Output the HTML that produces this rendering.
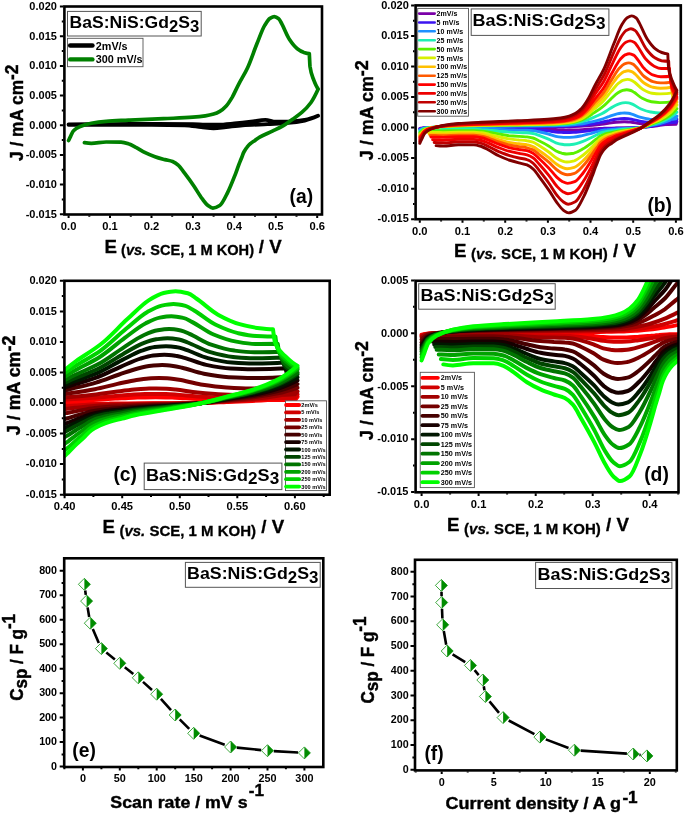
<!DOCTYPE html>
<html lang="en"><head><meta charset="utf-8"><title>CV curves BaS:NiS:Gd2S3</title>
<style>html,body{margin:0;padding:0;background:#fff}svg{display:block}text{font-family:'Liberation Sans', Arial, sans-serif;fill:#000}</style></head><body>
<svg width="685" height="815" viewBox="0 0 685 815">
<rect width="685" height="815" fill="#fff"/>
<g fill="none" stroke-linejoin="round" stroke-linecap="round">
<path d="M68.6 124.4C75.5 124.2 82.4 124.1 89.3 124.1C96.2 124.1 103.1 124.1 110 124.1C123.8 124.1 137.7 124 151.5 124C165.3 124 179.1 124 192.9 124.1C197 124.1 201.2 124.7 205.3 124.7C209.5 124.7 213.6 124.7 217.8 124.7C223.3 124.7 228.8 124 234.3 123.5C239.9 123 245.4 122.4 250.9 121.7C255.7 121.2 260.6 119.9 265.4 119.9C268.9 119.9 272.3 121.7 275.8 121.7C279.9 121.7 284.1 121.7 288.2 121.7C293.7 121.7 299.2 120.8 304.8 119.9C309.2 119.2 313.6 117.6 318 115.8L318 115.8C313.6 117.8 309.2 119.6 304.8 120.5C299.2 121.7 293.7 122.5 288.2 122.9C281.3 123.5 274.4 123.7 267.5 124.1C259.2 124.5 250.9 124.7 242.6 125.3C237.1 125.7 231.6 126.5 226 127.1C221.9 127.5 217.8 128.3 213.6 128.3C209.5 128.3 205.3 127.5 201.2 127.1C195.7 126.5 190.1 125.5 184.6 125.3C173.6 124.9 162.5 124.7 151.5 124.7C137.7 124.7 123.8 124.7 110 124.7C96.2 124.7 82.4 124.7 68.6 124.7" stroke="#000" stroke-width="3.9"/>
<path d="M68.6 140.5C69.3 139 70 137.5 70.7 136.1C71.6 134.3 72.5 131.7 73.5 130.7C75.5 128.6 77.5 127.5 79.5 126.7C83.4 125 87.4 123.9 91.3 123.2C96.3 122.3 101.2 121.7 106.2 121.3C113.6 120.7 121 120.5 128.5 120.1C140.1 119.6 151.7 119.2 163.4 118.7C173.2 118.2 183.1 117.9 192.9 117.2C197 117 201.2 116.6 205.3 115.9C208.1 115.5 210.9 114.9 213.6 114.1C215.7 113.5 217.8 112.6 219.8 111.4C221.9 110.2 224 108.5 226 106.3C228.1 104.1 230.2 100.6 232.3 97.1C234.3 93.5 236.4 88.6 238.5 84.6C241.5 78.7 244.6 74.2 247.6 67.7C250.7 61.1 253.8 51.5 256.9 43.8C259.5 37.5 262.1 29.7 264.7 25.4C266.5 22.5 268.2 19.5 270 18.4C271.4 17.6 272.8 16.7 274.3 16.7C275.7 16.7 277.2 17.6 278.7 18.8C279.7 19.5 280.7 21.9 281.7 23.7C284.3 28.4 286.9 35.6 289.5 39.5C292.1 43.4 294.7 46.7 297.3 48.7C299.4 50.3 301.5 51.6 303.5 52.3C305.5 52.9 307.4 53.5 309.3 53.6L309.3 53.6C309.6 58.4 309.8 64.7 310 66.4C311.3 75.2 312.5 76.6 313.7 79.9C315.2 83.8 316.7 87.2 318.2 89.1L318.2 89.1C315.8 94.4 313.4 99.2 311 102.5C307.9 106.8 304.9 109.8 301.8 112.4C298.7 115.1 295.7 117 292.6 119.2C289.5 121.3 286.5 123.8 283.4 125.6C279.9 127.6 276.4 129.2 272.9 130.9C268.5 133.1 264.1 134.6 259.7 137.2C258.1 138.1 256.6 139.3 255 140.4C253.5 141.5 252 142.3 250.5 143.6C249.3 144.5 248.2 145.7 247.1 147.1C246 148.4 245 150 243.9 152C243 153.6 242.2 156.4 241.3 158.5C240.4 160.9 239.4 163.1 238.5 165.6C237.6 168 236.7 170.7 235.8 173.1C233 180.1 230.3 187.3 227.6 192.6C225 197.7 222.4 203.9 219.7 205.5C217.5 206.9 215.2 208.1 212.9 208.1C211.3 208.1 209.6 206.7 208 205.5C206 204.1 204.1 201.3 202.1 198.7C199.5 195.2 196.8 190.4 194.2 186.5C191 181.7 187.7 177.2 184.4 172.9C182.4 170.3 180.5 167 178.5 165.3C176.6 163.6 174.6 162.3 172.6 161.5C170 160.6 167.4 160.3 164.8 159.6C161.5 158.7 158.3 157.9 155 156.7C151.7 155.6 148.4 154.3 145.2 152.7C142.1 151.2 139 149 135.9 147.4C133.4 146 130.9 144.4 128.5 143.7C126 142.9 123.5 142.1 121 142.1C116.1 142 111.1 142 106.2 142C101.2 142 96.3 143.3 91.3 143.3C89 143.3 86.7 143 84.4 142.7" stroke="#008000" stroke-width="3.7"/>
</g>
<rect x="64.4" y="6.5" width="257.6" height="208" fill="none" stroke="#000" stroke-width="2.6"/>
<text transform="translate(56.9 9.8) scale(1.03 1)" font-size="10.7" text-anchor="end" font-weight="bold">0.020</text>
<text transform="translate(56.9 39.5) scale(1.03 1)" font-size="10.7" text-anchor="end" font-weight="bold">0.015</text>
<text transform="translate(56.9 69.2) scale(1.03 1)" font-size="10.7" text-anchor="end" font-weight="bold">0.010</text>
<text transform="translate(56.9 98.8) scale(1.03 1)" font-size="10.7" text-anchor="end" font-weight="bold">0.005</text>
<text transform="translate(56.9 128.5) scale(1.03 1)" font-size="10.7" text-anchor="end" font-weight="bold">0.000</text>
<text transform="translate(56.9 158.2) scale(1.03 1)" font-size="10.7" text-anchor="end" font-weight="bold">-0.005</text>
<text transform="translate(56.9 187.9) scale(1.03 1)" font-size="10.7" text-anchor="end" font-weight="bold">-0.010</text>
<text transform="translate(56.9 217.5) scale(1.03 1)" font-size="10.7" text-anchor="end" font-weight="bold">-0.015</text>
<path d="M63.4 6.6h-3.5M63.4 36.3h-3.5M63.4 65.9h-3.5M63.4 95.6h-3.5M63.4 125.3h-3.5M63.4 155h-3.5M63.4 184.6h-3.5M63.4 214.3h-3.5M63.4 21.4h-1.6M63.4 51.1h-1.6M63.4 80.8h-1.6M63.4 110.4h-1.6M63.4 140.1h-1.6M63.4 169.8h-1.6M63.4 199.5h-1.6" stroke="#000" stroke-width="2.0" fill="none"/>
<text transform="translate(68.6 230) scale(1.045 1)" font-size="10.7" text-anchor="middle" font-weight="bold">0.0</text>
<text transform="translate(110 230) scale(1.045 1)" font-size="10.7" text-anchor="middle" font-weight="bold">0.1</text>
<text transform="translate(151.5 230) scale(1.045 1)" font-size="10.7" text-anchor="middle" font-weight="bold">0.2</text>
<text transform="translate(192.9 230) scale(1.045 1)" font-size="10.7" text-anchor="middle" font-weight="bold">0.3</text>
<text transform="translate(234.3 230) scale(1.045 1)" font-size="10.7" text-anchor="middle" font-weight="bold">0.4</text>
<text transform="translate(275.8 230) scale(1.045 1)" font-size="10.7" text-anchor="middle" font-weight="bold">0.5</text>
<text transform="translate(317.2 230) scale(1.045 1)" font-size="10.7" text-anchor="middle" font-weight="bold">0.6</text>
<path d="M68.6 215.5v2.6M110 215.5v2.6M151.5 215.5v2.6M192.9 215.5v2.6M234.3 215.5v2.6M275.8 215.5v2.6M317.2 215.5v2.6M89.3 215.5v1.2M130.8 215.5v1.2M172.2 215.5v1.2M213.6 215.5v1.2M255 215.5v1.2M296.5 215.5v1.2" stroke="#000" stroke-width="2.0" fill="none"/>
<text transform="translate(23.2 112.8) rotate(-90) scale(1 1.05)" font-size="17.3" font-weight="bold" text-anchor="middle" stroke="#000" stroke-width="0.4">J / mA cm<tspan dy="-4.6">-2</tspan></text>
<text x="104.5" y="252.9" font-size="18.7" text-anchor="start" font-weight="bold" stroke="#000" stroke-width="0.3">E</text>
<text x="121" y="255.4" font-size="14.6" font-weight="bold" stroke="#000" stroke-width="0.3">(<tspan font-style="italic">vs.</tspan> SCE, 1 M KOH)</text>
<text x="258.8" y="252.9" font-size="18.7" text-anchor="start" font-weight="bold" stroke="#000" stroke-width="0.3">/ V</text>
<rect x="67.5" y="11.4" width="133.7" height="24.6" fill="#fff" stroke="#555" stroke-width="1"/>
<text transform="translate(69.6 28.3) scale(1.07 1)" font-size="16.4" font-weight="bold">BaS:NiS:Gd<tspan dy="3.2" font-size="15.6">2</tspan><tspan dy="-3.2" font-size="16.4">S</tspan><tspan dy="3.2" font-size="15.6">3</tspan></text>
<rect x="67.5" y="38.3" width="75.5" height="28.4" fill="#fff" stroke="#555" stroke-width="0.9"/>
<path d="M70.2 45.5H92.4" stroke="#000" stroke-width="4.6" stroke-linecap="round"/>
<path d="M70.2 59.4H92.4" stroke="#008000" stroke-width="4.4" stroke-linecap="round"/>
<text x="95.8" y="49.5" font-size="10.8" text-anchor="start" font-weight="bold">2mV/s</text>
<text x="95.8" y="63.2" font-size="10.8" text-anchor="start" font-weight="bold">300 mV/s</text>
<text x="289.6" y="202.6" font-size="19.3" text-anchor="start" font-weight="bold">(a)</text>
<g fill="none" stroke-linejoin="round" stroke-linecap="round" stroke-width="2.9">
<path d="M419.8 128.4C420.4 128.3 420.9 128.2 421.5 128.1C422.2 128 422.9 127.9 423.6 127.8C425.2 127.7 426.8 127.7 428.3 127.6C431.9 127.5 435.5 127.4 439 127.4C445.4 127.3 451.8 127.2 458.2 127.2C466 127.2 473.7 127.1 481.5 127.1C493.5 127.1 505.4 127.1 517.4 127C527.6 127 537.7 126.9 547.9 126.9C551.4 126.8 555 126.8 558.5 126.8C561.4 126.7 564.2 126.7 567.1 126.7C569.2 126.6 571.3 126.5 573.5 126.5C575.6 126.4 577.7 126.3 579.9 126.2C582 126.1 584.1 125.9 586.3 125.8C588.4 125.6 590.5 125.4 592.7 125.2C595.5 125 598.4 124.7 601.2 124.3C603.9 124 606.6 123.5 609.3 123.1C611.6 122.8 613.9 122.5 616.1 122.3C617.6 122.1 619 122 620.4 122C621.7 121.9 623 121.8 624.3 121.8C625.5 121.8 626.8 121.9 628.1 122C629.2 122 630.4 122.2 631.5 122.3C634.2 122.6 636.9 123.2 639.6 123.5C642.9 123.9 646.2 124.2 649.4 124.4C652.6 124.5 655.7 124.7 658.8 124.7C664.6 124.7 670.4 124.6 676.1 124.3L676.9 121.5L676.9 121.5C674.4 122.4 672 123.2 669.5 123.8C666.3 124.5 663.2 125 660 125.4C656.9 125.9 653.7 126.2 650.5 126.6C647.4 126.9 644.2 127.5 641.1 127.6C637.5 127.7 633.9 127.7 630.3 127.8C625.7 127.8 621.2 127.9 616.6 128C615.1 128 613.5 128 611.9 128.1C610.3 128.1 608.7 128.1 607.1 128.2C605.9 128.2 604.7 128.2 603.5 128.3C602.4 128.3 601.3 128.3 600.2 128.4C599.3 128.5 598.4 128.5 597.5 128.6C596.4 128.7 595.4 128.7 594.4 128.8C593.4 128.9 592.4 129 591.4 129C588.3 129.2 585.2 129.5 582.2 129.6C579.2 129.8 576.2 129.9 573.3 130C570.8 130 568.4 130.1 566 130.1C564.4 130.1 562.7 130 561.1 130C559.3 129.9 557.5 129.9 555.6 129.8C553.2 129.7 550.8 129.4 548.4 129.3C545.2 129.1 542 128.9 538.9 128.7C536.9 128.6 534.9 128.5 533 128.5C531 128.4 529 128.4 527 128.4C524.3 128.3 521.6 128.3 518.9 128.3C515.5 128.3 512.2 128.3 508.8 128.3C505.4 128.2 502.1 128.1 498.7 128.1C495.5 128 492.3 128 489.1 127.9C486.6 127.9 484 127.8 481.5 127.8C478.9 127.8 476.4 127.8 473.8 127.8C468.7 127.8 463.6 127.8 458.5 127.8C453.4 127.8 448.3 127.8 443.2 127.8C440.4 127.8 437.6 127.8 434.8 127.8C431.7 127.8 428.6 127.8 425.5 127.8" stroke="#7b00a8"/>
<path d="M419.8 128.9C420.4 128.7 420.9 128.6 421.5 128.4C422.2 128.3 422.9 128.1 423.6 128C425.2 127.8 426.8 127.7 428.3 127.6C431.9 127.4 435.5 127.3 439 127.2C445.4 127.1 451.8 127 458.2 127C466 126.9 473.7 126.9 481.5 126.8C493.5 126.8 505.4 126.7 517.4 126.7C527.6 126.6 537.7 126.5 547.9 126.4C551.4 126.4 555 126.3 558.5 126.3C561.4 126.2 564.2 126.2 567.1 126.1C569.2 126 571.3 125.9 573.5 125.8C575.6 125.7 577.7 125.5 579.9 125.3C582 125.1 584.1 124.9 586.3 124.7C588.4 124.4 590.5 124.2 592.7 123.9C595.5 123.4 598.4 122.9 601.2 122.4C603.9 121.9 606.6 121.1 609.3 120.6C611.6 120.1 613.9 119.5 616.1 119.2C617.6 119 619 118.8 620.4 118.7C621.7 118.6 623 118.5 624.3 118.5C625.5 118.5 626.8 118.6 628.1 118.7C629.2 118.8 630.4 119 631.5 119.2C634.2 119.7 636.9 120.6 639.6 121.1C642.9 121.7 646.2 122.2 649.4 122.5C652.6 122.7 655.7 123 658.8 123C664.6 123 670.4 122.9 676.1 122.3L676.9 119.1L676.9 119.1C674.4 120.3 672 121.5 669.5 122.2C666.3 123.2 663.2 124 660 124.6C656.9 125.2 653.7 125.7 650.5 126.2C647.4 126.7 644.2 127.5 641.1 127.6C637.5 127.8 633.9 127.8 630.3 127.9C625.7 128.1 621.2 128.2 616.7 128.3C615.1 128.4 613.5 128.4 611.9 128.5C610.3 128.6 608.7 128.6 607.1 128.7C605.9 128.8 604.7 128.8 603.5 128.9C602.4 129 601.3 129.1 600.2 129.2C599.3 129.3 598.4 129.5 597.5 129.6C596.5 129.7 595.4 129.9 594.4 130C593.4 130.1 592.4 130.3 591.4 130.4C588.4 130.9 585.3 131.3 582.2 131.6C579.2 131.9 576.3 132.3 573.3 132.4C570.9 132.4 568.5 132.5 566.1 132.5C564.4 132.5 562.8 132.4 561.2 132.4C559.3 132.3 557.5 132.1 555.7 132C553.3 131.7 550.8 131.2 548.4 130.9C545.2 130.5 542.1 130.1 538.9 129.8C536.9 129.6 534.9 129.4 533 129.3C531 129.2 529 129.1 527 129.1C524.3 129.1 521.6 129.1 518.9 129C515.5 129 512.2 129 508.8 128.9C505.4 128.8 502.1 128.7 498.7 128.6C495.5 128.6 492.3 128.4 489.1 128.4C486.6 128.3 484 128.2 481.5 128.2C478.9 128.2 476.4 128.1 473.8 128.1C468.7 128.1 463.6 128.1 458.5 128.1C453.4 128.1 448.3 128.2 443.2 128.2C440.4 128.2 437.6 128.2 434.8 128.2C431.7 128.2 428.7 128.2 425.7 128.2" stroke="#3c14f0"/>
<path d="M419.8 129.7C420.4 129.4 420.9 129.2 421.5 128.9C422.2 128.7 423 128.4 423.7 128.2C425.3 127.9 426.8 127.8 428.4 127.6C432 127.4 435.6 127.2 439.1 127.1C445.5 126.9 451.9 126.7 458.2 126.6C466 126.5 473.7 126.5 481.5 126.4C493.5 126.3 505.4 126.3 517.4 126.1C527.6 126 537.7 125.9 547.9 125.8C551.4 125.7 555 125.7 558.6 125.6C561.4 125.5 564.3 125.4 567.1 125.3C569.3 125.2 571.4 125 573.5 124.8C575.7 124.6 577.8 124.4 579.9 124.1C582.1 123.8 584.2 123.4 586.3 123C588.5 122.6 590.6 122.2 592.7 121.7C595.6 121 598.4 120.2 601.3 119.3C604 118.5 606.7 117.3 609.5 116.4C611.7 115.6 614 114.7 616.3 114.1C617.8 113.8 619.2 113.5 620.6 113.3C621.9 113.2 623.2 113 624.5 113C625.8 113 627.1 113.1 628.3 113.3C629.5 113.5 630.6 113.8 631.7 114.1C634.5 114.9 637.2 116.4 639.9 117.1C643.1 118 646.4 118.8 649.6 119.2C652.7 119.5 655.8 119.9 658.9 119.9C664.6 119.9 670.2 119.8 675.9 118.9L676.9 116L676.9 116C674.4 117.7 672 119.3 669.5 120.3C666.3 121.7 663.2 122.6 660 123.5C656.9 124.4 653.7 125 650.5 125.6C647.4 126.3 644.2 127.4 641.1 127.6C637.5 128 633.9 128.1 630.3 128.3C625.7 128.5 621.2 128.7 616.7 129C615.1 129.1 613.5 129.3 611.9 129.4C610.3 129.5 608.7 129.6 607.1 129.8C605.9 129.9 604.7 130 603.5 130.2C602.4 130.4 601.3 130.5 600.2 130.8C599.3 131 598.4 131.3 597.5 131.6C596.5 131.8 595.4 132.1 594.4 132.4C593.4 132.7 592.5 133 591.5 133.3C588.4 134.1 585.3 135 582.3 135.6C579.3 136.2 576.4 136.9 573.5 137.1C571.1 137.3 568.6 137.4 566.2 137.4C564.6 137.4 562.9 137.3 561.3 137.1C559.5 137 557.6 136.7 555.8 136.3C553.3 135.8 550.9 134.6 548.4 134C545.3 133.1 542.1 132.3 538.9 131.7C536.9 131.3 535 130.8 533 130.6C531 130.4 529 130.3 527 130.2C524.3 130.2 521.6 130.1 518.9 130.1C515.5 130 512.2 130 508.8 129.9C505.4 129.8 502.1 129.6 498.7 129.4C495.5 129.2 492.3 129 489.1 128.9C486.6 128.8 484 128.6 481.5 128.6C478.9 128.5 476.4 128.5 473.8 128.5C468.7 128.5 463.6 128.5 458.5 128.5C453.4 128.5 448.3 128.5 443.2 128.5C440.4 128.5 437.6 128.5 434.8 128.5C431.8 128.5 428.9 128.5 425.9 128.5" stroke="#1e90ff"/>
<path d="M419.8 131.1C420.4 130.7 421 130.3 421.6 130C422.3 129.5 423.1 129 423.9 128.7C425.5 128.2 427.2 127.9 428.8 127.7C432.5 127.3 436.1 127 439.8 126.8C445.9 126.5 452.1 126.3 458.3 126.2C466 126 473.7 126 481.5 125.9C493.5 125.7 505.4 125.6 517.4 125.4C527.6 125.3 537.7 125.2 547.9 124.9C551.5 124.9 555.2 124.7 558.9 124.6C561.8 124.5 564.6 124.3 567.4 124.1C569.6 124 571.7 123.7 573.8 123.4C576 123 578.1 122.6 580.2 122.1C582.4 121.6 584.5 120.9 586.7 120.2C588.8 119.5 590.9 118.6 593.1 117.7C596 116.5 598.8 115.3 601.7 113.8C604.5 112.3 607.3 110.2 610.1 108.5C612.5 107.2 614.8 105.5 617.2 104.6C618.7 104 620.2 103.4 621.6 103.1C623 102.9 624.3 102.6 625.6 102.6C626.9 102.6 628.2 102.9 629.6 103.1C630.7 103.4 631.8 103.9 632.9 104.4C635.6 105.6 638.3 107.9 641 109C644.2 110.3 647.4 111.5 650.5 112C653.5 112.5 656.4 113 659.4 113C664.4 113 669.5 112.7 674.6 111.6L674.6 111.6C674.7 111.7 674.7 111.8 674.8 111.9C675.1 112.1 675.4 112.1 675.7 112.2C676.1 112.2 676.5 112.3 676.9 112.3L676.9 112.3C674.4 114.6 672 116.6 669.5 118C666.3 119.8 663.2 121.1 660 122.2C656.9 123.3 653.7 124.1 650.5 125C647.4 125.9 644.2 127.2 641.1 127.7C637.5 128.2 633.9 128.4 630.3 128.8C625.7 129.2 621.2 129.5 616.7 130.1C615.1 130.3 613.5 130.5 611.9 130.8C610.3 131 608.7 131.1 607.1 131.4C605.9 131.6 604.7 131.8 603.6 132.1C602.5 132.4 601.3 132.7 600.2 133.1C599.3 133.5 598.4 134.1 597.5 134.5C596.5 135 595.5 135.5 594.5 136C593.5 136.5 592.5 137 591.5 137.5C588.5 139 585.4 140.5 582.4 141.6C579.5 142.6 576.6 143.9 573.7 144.2C571.3 144.5 568.8 144.8 566.4 144.8C564.8 144.8 563.2 144.5 561.5 144.2C559.7 144 557.8 143.4 555.9 142.8C553.5 142 551 140.2 548.5 139.1C545.3 137.7 542.1 136.4 538.9 135.3C536.9 134.7 535 133.8 533 133.5C531 133.2 529 132.9 527 132.8C524.3 132.7 521.6 132.7 518.9 132.6C515.5 132.4 512.2 132.3 508.8 132.1C505.4 131.9 502.1 131.5 498.7 131.2C495.5 130.8 492.3 130.5 489.1 130.2C486.6 129.9 484 129.7 481.5 129.6C478.9 129.4 476.4 129.3 473.8 129.3C468.7 129.3 463.6 129.3 458.5 129.3C453.4 129.3 448.3 129.5 443.2 129.5C440.4 129.5 437.6 129.4 434.8 129.4C432 129.4 429.2 129.4 426.4 129.4" stroke="#1ef0b4"/>
<path d="M419.8 132.9C420.4 132.4 421 131.8 421.6 131.3C422.4 130.7 423.2 129.8 424 129.4C425.8 128.7 427.5 128.3 429.2 128C432.9 127.4 436.7 127 440.4 126.7C446.4 126.4 452.3 126.1 458.3 126C466 125.8 473.8 125.7 481.5 125.5C493.5 125.3 505.4 125.2 517.4 125C527.6 124.8 537.7 124.7 547.9 124.4C551.6 124.3 555.4 124.1 559.2 123.9C562.1 123.7 564.9 123.5 567.8 123.2C569.9 123 572 122.6 574.2 122.2C576.3 121.8 578.4 121.2 580.6 120.4C582.7 119.7 584.8 118.5 587 117.3C589.1 116.1 591.2 114.6 593.4 113.1C596.3 111.2 599.2 109.6 602.2 107.2C605.1 105 607.9 101.7 610.8 99.1C613.2 96.9 615.6 94.3 618 92.8C619.6 91.8 621.1 90.8 622.7 90.4C624 90.1 625.3 89.8 626.7 89.8C628 89.8 629.4 90.1 630.8 90.5C631.9 90.8 633 91.7 634.1 92.3C636.8 94 639.5 97 642.2 98.3C645.2 99.9 648.3 101.3 651.4 101.8C654.2 102.2 657 102.6 659.8 102.6C664.3 102.6 668.9 102.3 673.4 101.3L673.4 101.3C673.5 102.3 673.6 103.6 673.7 104C674.2 105.8 674.6 106.1 675.1 106.8C675.7 107.6 676.3 108.3 676.9 108.7L676.9 108.7C674.4 111.5 672 114 669.5 115.7C666.3 117.9 663.2 119.5 660 120.9C656.9 122.3 653.7 123.3 650.5 124.4C647.4 125.5 644.2 127 641.1 127.7C637.5 128.5 633.9 128.9 630.3 129.4C625.7 130.1 621.2 130.6 616.7 131.4C615.1 131.7 613.5 132.1 611.9 132.4C610.3 132.8 608.7 133 607.1 133.4C606 133.7 604.8 134.1 603.6 134.6C602.5 135 601.4 135.5 600.3 136.1C599.4 136.6 598.5 137.5 597.6 138.2C596.5 139 595.5 139.7 594.5 140.5C593.5 141.2 592.6 142.1 591.6 142.8C588.6 145.1 585.6 147.4 582.6 149.1C579.7 150.7 576.8 152.6 573.9 153.2C571.5 153.6 569.1 154 566.7 154C565.1 154 563.4 153.5 561.8 153.2C559.9 152.7 558 151.9 556.1 151C553.6 149.8 551.1 147.4 548.6 145.9C545.4 144 542.2 142.3 538.9 140.7C537 139.7 535 138.6 533 138C531 137.5 529 137.1 527 136.9C524.3 136.7 521.6 136.6 518.9 136.4C515.5 136.2 512.2 136 508.8 135.7C505.4 135.3 502.1 134.5 498.7 134C495.5 133.4 492.3 132.7 489.1 132.2C486.6 131.8 484 131.3 481.5 131.1C478.9 130.9 476.4 130.7 473.8 130.7C468.7 130.7 463.6 130.7 458.5 130.7C453.4 130.7 448.3 130.9 443.2 130.9C440.4 130.9 437.6 130.8 434.8 130.8C432.3 130.8 429.8 130.8 427.3 130.8" stroke="#5af000"/>
<path d="M419.8 134.4C420.4 133.7 421.1 133.1 421.7 132.4C422.5 131.6 423.3 130.5 424.2 130C425.9 129.1 427.7 128.6 429.5 128.2C433.3 127.5 437.1 127 440.8 126.7C446.7 126.3 452.5 126 458.3 125.8C466.1 125.6 473.8 125.5 481.5 125.3C493.5 125.1 505.4 124.9 517.4 124.7C527.6 124.5 537.7 124.4 547.9 124C551.7 123.9 555.6 123.7 559.5 123.5C562.3 123.3 565.1 123 568 122.6C570.1 122.4 572.3 122 574.4 121.4C576.5 120.9 578.7 120.1 580.8 119.2C582.9 118.2 585.1 116.6 587.2 115.1C589.3 113.5 591.5 111.3 593.6 109.5C596.6 107 599.5 105 602.5 102C605.4 99.2 608.3 94.8 611.3 91.4C613.7 88.6 616.2 85.2 618.6 83.2C620.2 82 621.8 80.6 623.4 80.2C624.8 79.8 626.1 79.4 627.5 79.4C628.9 79.4 630.3 79.8 631.6 80.3C632.7 80.7 633.8 81.7 634.9 82.5C637.6 84.5 640.3 88 643 89.5C646 91.2 649 92.8 652 93.2C654.7 93.6 657.4 93.9 660.1 93.9C664.2 93.9 668.4 93.7 672.5 92.9L672.5 92.9C672.6 94.5 672.7 96.7 672.8 97.3C673.5 100.3 674.1 100.7 674.7 101.9C675.4 103.2 676.1 104.4 676.9 105L676.9 105C674.4 108.3 672 111.3 669.5 113.4C666.3 116.1 663.2 117.9 660 119.6C656.9 121.3 653.7 122.4 650.5 123.8C647.4 125.1 644.2 126.9 641.1 127.7C637.5 128.7 633.9 129.2 630.3 130C625.7 130.8 621.2 131.5 616.7 132.5C615.1 132.9 613.5 133.4 611.9 133.9C610.3 134.3 608.7 134.7 607.1 135.2C606 135.6 604.8 136.1 603.6 136.7C602.5 137.2 601.4 137.8 600.3 138.7C599.4 139.4 598.5 140.5 597.6 141.4C596.6 142.4 595.6 143.3 594.5 144.3C593.6 145.3 592.6 146.5 591.7 147.4C588.7 150.4 585.7 153.3 582.7 155.5C579.8 157.6 577 160.2 574.1 160.9C571.7 161.4 569.3 162 566.9 162C565.3 162 563.6 161.4 562 160.9C560.1 160.3 558.2 159.2 556.3 158C553.8 156.5 551.2 153.8 548.7 152C545.5 149.6 542.2 147.5 539 145.5C537 144.3 535 142.8 533 142.1C531 141.5 529 140.9 527 140.7C524.3 140.3 521.6 140.2 518.9 140C515.5 139.6 512.2 139.4 508.8 138.9C505.4 138.4 502.1 137.5 498.7 136.7C495.5 135.9 492.3 135 489.1 134.3C486.6 133.8 484 133.1 481.5 132.8C478.9 132.6 476.4 132.3 473.8 132.3C468.7 132.3 463.6 132.3 458.5 132.3C453.4 132.3 448.3 132.6 443.2 132.6C440.4 132.6 437.6 132.5 434.8 132.5C432.6 132.5 430.4 132.5 428.2 132.5" stroke="#d8f000"/>
<path d="M419.8 135.6C420.4 134.8 421.1 134 421.7 133.3C422.6 132.3 423.4 131 424.3 130.5C426.1 129.3 427.9 128.8 429.7 128.3C433.5 127.4 437.4 126.9 441.2 126.5C446.9 126 452.6 125.7 458.4 125.5C466.1 125.2 473.8 125.1 481.5 124.9C493.5 124.6 505.4 124.4 517.4 124.2C527.6 123.9 537.7 123.8 547.9 123.4C551.8 123.3 555.7 123 559.6 122.7C562.5 122.5 565.3 122.2 568.2 121.8C570.3 121.4 572.4 121 574.6 120.3C576.7 119.7 578.8 118.8 581 117.7C583.1 116.5 585.2 114.7 587.4 112.9C589.5 111 591.6 108.5 593.8 106.3C596.8 103.3 599.8 101 602.8 97.5C605.7 94.1 608.7 89 611.6 85C614.1 81.7 616.6 77.7 619.1 75.4C620.7 73.9 622.3 72.3 624 71.7C625.3 71.3 626.7 70.8 628.1 70.8C629.5 70.8 630.9 71.4 632.3 71.9C633.4 72.3 634.5 73.6 635.6 74.5C638.3 76.9 641 80.9 643.7 82.8C646.6 84.8 649.6 86.6 652.5 87.2C655.2 87.7 657.8 88.2 660.4 88.2C664.2 88.2 668 88 671.8 87.3L671.8 87.3C671.9 89.2 672.1 91.9 672.2 92.6C672.9 96.2 673.6 96.8 674.3 98.1C675.2 99.8 676 101.2 676.9 102L676.9 102C674.4 105.7 672 109.1 669.5 111.5C666.3 114.5 663.2 116.6 660 118.5C656.9 120.4 653.7 121.7 650.5 123.3C647.4 124.8 644.2 126.7 641.1 127.8C637.5 128.9 633.9 129.6 630.3 130.4C625.7 131.5 621.2 132.2 616.7 133.5C615.1 133.9 613.5 134.6 611.9 135.1C610.3 135.6 608.7 136.1 607.2 136.7C606 137.2 604.8 137.7 603.6 138.4C602.5 139.1 601.4 139.9 600.3 140.9C599.4 141.7 598.5 143 597.6 144.1C596.6 145.3 595.6 146.4 594.6 147.6C593.6 148.8 592.7 150.2 591.7 151.3C588.7 154.8 585.8 158.4 582.8 161C580 163.5 577.2 166.6 574.3 167.4C571.9 168.1 569.5 168.7 567.1 168.7C565.5 168.7 563.8 168 562.2 167.4C560.3 166.7 558.3 165.3 556.4 164C553.9 162.3 551.3 159.6 548.8 157.6C545.5 155 542.2 152.7 539 150.5C537 149.1 535 147.4 533 146.6C531 145.8 529 145.1 527 144.8C524.3 144.3 521.6 144.2 518.9 143.8C515.5 143.4 512.2 143.1 508.8 142.4C505.4 141.8 502.1 140.6 498.7 139.6C495.5 138.6 492.3 137.4 489.1 136.5C486.6 135.8 484 134.9 481.5 134.5C478.9 134.2 476.4 133.8 473.8 133.8C468.7 133.8 463.6 133.8 458.5 133.8C453.4 133.8 448.3 134.3 443.2 134.3C440.4 134.3 437.6 134.1 434.8 134.1C432.9 134.1 431.1 134.1 429.2 134.1" stroke="#ffc000"/>
<path d="M419.8 136.7C420.5 135.8 421.1 134.9 421.8 134.1C422.6 133 423.5 131.4 424.4 130.9C426.2 129.6 428.1 128.9 429.9 128.4C433.8 127.4 437.6 126.8 441.5 126.4C447.1 125.8 452.8 125.5 458.4 125.2C466.1 124.9 473.8 124.8 481.5 124.5C493.5 124.2 505.4 124 517.4 123.7C527.6 123.4 537.7 123.2 547.9 122.8C551.8 122.7 555.8 122.4 559.8 122C562.6 121.8 565.5 121.4 568.3 120.9C570.5 120.6 572.6 120 574.7 119.3C576.9 118.6 579 117.6 581.1 116.3C583.3 115 585.4 112.9 587.5 110.8C589.7 108.7 591.8 105.8 593.9 103.3C597 99.9 600 97.2 603 93.3C606 89.4 609 83.6 612 79.1C614.5 75.3 617 70.7 619.5 68.1C621.2 66.3 622.8 64.5 624.5 63.9C625.9 63.4 627.3 62.9 628.7 62.9C630.1 62.9 631.5 63.5 632.9 64.1C634 64.6 635.1 66 636.2 67.1C638.9 69.8 641.5 74.4 644.2 76.5C647.2 78.8 650.1 80.9 653 81.6C655.5 82.3 658.1 82.9 660.6 82.9C664.1 82.9 667.6 82.9 671.2 82.1L671.2 82.1C671.3 84.4 671.5 87.4 671.6 88.2C672.4 92.3 673.2 93 674 94.6C675 96.4 675.9 98 676.9 98.9L676.9 98.9C674.4 103.1 672 106.9 669.5 109.6C666.3 112.9 663.2 115.3 660 117.4C656.9 119.5 653.7 121 650.5 122.8C647.4 124.5 644.2 126.6 641.1 127.8C637.5 129.1 633.9 129.9 630.3 130.8C625.7 132.1 621.2 132.9 616.7 134.4C615.1 134.9 613.5 135.6 611.9 136.2C610.3 136.8 608.7 137.3 607.2 138C606 138.6 604.8 139.3 603.6 140.1C602.5 140.8 601.4 141.7 600.3 142.8C599.4 143.8 598.5 145.3 597.6 146.6C596.6 147.9 595.6 149.2 594.6 150.6C593.7 152 592.7 153.5 591.7 154.8C588.8 158.9 585.9 163 582.9 166C580.1 168.9 577.3 172.4 574.5 173.3C572.1 174.1 569.7 174.8 567.3 174.8C565.7 174.8 564 174 562.3 173.3C560.4 172.6 558.5 171 556.5 169.5C554 167.5 551.4 164.5 548.8 162.2C545.6 159.4 542.3 156.8 539 154.3C537 152.7 535 150.8 533 149.9C531 148.9 529 148.2 527 147.8C524.3 147.2 521.6 147.1 518.9 146.7C515.5 146.2 512.2 145.7 508.8 145C505.4 144.3 502.1 143 498.7 141.8C495.5 140.8 492.3 139.4 489.1 138.3C486.6 137.5 484 136.5 481.5 136.1C478.9 135.7 476.4 135.2 473.8 135.2C468.7 135.2 463.6 135.2 458.5 135.2C453.4 135.2 448.3 135.8 443.2 135.8C440.4 135.8 437.6 135.5 434.8 135.5C433.2 135.5 431.6 135.5 430.1 135.5" stroke="#ff5a00"/>
<path d="M419.8 138C420.5 136.9 421.1 136 421.8 135C422.7 133.7 423.6 132 424.5 131.3C426.3 129.9 428.2 129.1 430.1 128.5C434 127.4 438 126.7 441.9 126.2C447.4 125.6 452.9 125.2 458.4 124.9C466.1 124.5 473.8 124.3 481.5 124.1C493.5 123.7 505.4 123.5 517.4 123.1C527.6 122.8 537.7 122.6 547.9 122.1C551.9 122 555.9 121.7 560 121.3C562.8 121 565.7 120.6 568.5 120C570.6 119.6 572.8 119 574.9 118.2C577 117.4 579.2 116.2 581.3 114.7C583.4 113.2 585.6 110.8 587.7 108.4C589.8 106 592 102.7 594.1 99.9C597.2 96 600.2 92.9 603.2 88.5C606.3 84 609.3 77.4 612.4 72.2C614.9 67.9 617.4 62.6 620 59.6C621.7 57.7 623.4 55.6 625 54.9C626.5 54.3 627.9 53.7 629.3 53.7C630.7 53.7 632.2 54.4 633.6 55.1C634.7 55.7 635.8 57.3 636.8 58.5C639.5 61.6 642.2 66.8 644.9 69.2C647.8 71.9 650.6 74.2 653.5 75.2C655.9 76 658.4 76.8 660.9 76.8C664.1 76.8 667.3 76.8 670.5 76.3L670.5 76.3C670.6 79.1 670.8 82.8 671 83.8C671.9 89 672.8 89.8 673.7 91.7C674.7 94 675.8 96 676.9 97.1L676.9 97.1C674.4 101.6 672 105.6 669.5 108.4C666.3 112 663.2 114.5 660 116.8C656.9 119 653.7 120.6 650.5 122.4C647.4 124.3 644.2 126.5 641.1 127.8C637.5 129.3 633.9 130.3 630.3 131.4C625.7 132.9 621.2 133.9 616.7 135.6C615.1 136.2 613.5 137.1 611.9 137.8C610.3 138.5 608.7 139.1 607.2 139.9C606 140.6 604.8 141.4 603.6 142.3C602.5 143.2 601.4 144.2 600.3 145.6C599.4 146.7 598.5 148.6 597.6 150C596.7 151.6 595.7 153.1 594.7 154.8C593.7 156.4 592.8 158.2 591.8 159.8C588.9 164.6 586 169.4 583.1 173C580.3 176.4 577.5 180.6 574.7 181.7C572.3 182.6 570 183.4 567.6 183.4C565.9 183.4 564.2 182.5 562.6 181.7C560.6 180.7 558.7 178.9 556.7 177.1C554.1 174.7 551.5 170.9 548.9 168.2C545.6 164.7 542.3 161.5 539 158.5C537 156.6 535 154.3 533 153.2C531 152.1 529 151.2 527 150.7C524.3 150.1 521.6 149.9 518.9 149.5C515.5 148.9 512.2 148.4 508.8 147.6C505.4 146.8 502.1 145.4 498.7 144.2C495.5 143 492.3 141.5 489.1 140.3C486.6 139.4 484 138.2 481.5 137.8C478.9 137.3 476.4 136.8 473.8 136.8C468.7 136.7 463.6 136.7 458.5 136.7C453.4 136.7 448.3 137.4 443.2 137.4C440.4 137.4 437.6 137.1 434.8 137.1C433.5 137.1 432.3 137.1 431 137.1" stroke="#ff0000"/>
<path d="M419.8 139.8C420.5 138.6 421.2 137.4 421.8 136.3C422.8 134.8 423.7 132.7 424.6 131.9C426.5 130.3 428.5 129.4 430.4 128.7C434.4 127.4 438.4 126.5 442.3 126C447.7 125.2 453.1 124.8 458.5 124.4C466.1 124 473.8 123.8 481.5 123.5C493.5 123.1 505.4 122.7 517.4 122.3C527.6 122 537.7 121.8 547.9 121.2C552 121 556.1 120.6 560.2 120.2C563.1 119.8 565.9 119.3 568.7 118.7C570.9 118.2 573 117.5 575.1 116.5C577.3 115.6 579.4 114.2 581.5 112.4C583.7 110.7 585.8 107.9 588 105.1C590.1 102.2 592.2 98.3 594.4 95.1C597.4 90.5 600.5 86.9 603.6 81.7C606.7 76.4 609.8 68.7 612.9 62.6C615.4 57.5 618 51.3 620.6 47.8C622.4 45.5 624.1 43.1 625.8 42.3C627.2 41.6 628.7 40.9 630.1 40.9C631.6 40.9 633 41.7 634.5 42.6C635.6 43.2 636.6 45.1 637.7 46.5C640.4 50.2 643.1 56.2 645.8 59.1C648.6 62.2 651.4 64.9 654.2 66.2C656.5 67.3 658.8 68.5 661.2 68.5C664 68.5 666.8 68.5 669.5 68.5L669.5 68.5C669.7 71.9 669.9 76.5 670.1 77.7C671.2 84 672.2 85 673.2 87.4C674.4 90.2 675.7 92.7 676.9 94L676.9 94C674.4 99 672 103.4 669.5 106.5C666.3 110.4 663.2 113.2 660 115.7C656.9 118.2 653.7 119.9 650.5 121.9C647.4 124 644.2 126.3 641.1 127.9C637.5 129.6 633.9 130.8 630.3 132.1C625.7 133.8 621.2 135 616.7 137.1C615.1 137.8 613.5 138.9 611.9 139.7C610.3 140.6 608.7 141.2 607.2 142.2C606 143 604.8 143.9 603.6 145.1C602.5 146.1 601.4 147.3 600.4 149C599.5 150.3 598.6 152.5 597.7 154.2C596.7 156.1 595.7 157.9 594.7 159.9C593.8 161.8 592.8 164 591.9 165.8C589 171.5 586.1 177.2 583.2 181.5C580.5 185.5 577.7 190.5 575 191.8C572.6 192.9 570.3 193.8 567.9 193.8C566.2 193.8 564.5 192.7 562.9 191.8C560.9 190.6 558.9 188.4 556.9 186.3C554.3 183.4 551.7 178.9 549 175.6C545.7 171.5 542.4 167.7 539.1 164C537 161.8 535 159.1 533 157.8C531 156.4 529 155.4 527 154.8C524.3 154.1 521.6 153.9 518.9 153.4C515.5 152.7 512.2 152.1 508.8 151.2C505.4 150.3 502.1 149 498.7 147.7C495.5 146.5 492.3 144.7 489.1 143.4C486.6 142.4 484 141.1 481.5 140.5C478.9 140 476.4 139.4 473.8 139.4C468.7 139.3 463.6 139.3 458.5 139.3C453.4 139.3 448.3 140.2 443.2 140.2C440.4 140.2 437.6 139.8 434.8 139.8C434.1 139.8 433.3 139.8 432.6 139.8" stroke="#ee0000"/>
<path d="M419.8 141.5C420.5 140.1 421.2 138.8 421.9 137.5C422.8 135.8 423.8 133.5 424.7 132.6C426.7 130.6 428.7 129.6 430.7 128.9C434.7 127.3 438.8 126.4 442.8 125.7C448 124.9 453.3 124.3 458.5 124C466.1 123.5 473.8 123.2 481.5 122.9C493.5 122.4 505.4 122.1 517.4 121.6C527.6 121.2 537.7 120.9 547.9 120.3C552 120 556.2 119.7 560.4 119.1C563.3 118.7 566.1 118.2 569 117.4C571.1 116.9 573.2 116 575.4 115C577.5 113.9 579.6 112.3 581.8 110.3C583.9 108.3 586 105.1 588.2 101.9C590.3 98.7 592.4 94.2 594.6 90.5C597.7 85.2 600.8 81.1 603.9 75.2C607 69.1 610.2 60.4 613.3 53.4C616 47.6 618.6 40.6 621.2 36.6C623 34 624.8 31.2 626.5 30.3C628 29.5 629.4 28.7 630.9 28.7C632.4 28.7 633.9 29.6 635.3 30.6C636.4 31.3 637.5 33.5 638.5 35.1C641.2 39.3 643.9 46 646.6 49.5C649.3 53 652 56.1 654.8 57.7C657 59.1 659.3 60.3 661.5 60.7C663.9 61 666.3 61.2 668.7 61.2L668.7 61.2C668.9 65.4 669.1 70.9 669.3 72.4C670.5 80.1 671.6 81.3 672.8 84.1C674.1 87.6 675.5 90.6 676.9 92.2L676.9 92.2C674.4 97.4 672 102.1 669.5 105.3C666.3 109.5 663.2 112.4 660 115C656.9 117.7 653.7 119.5 650.5 121.6C647.4 123.8 644.2 126.2 641.1 127.9C637.5 129.8 633.9 131.2 630.3 132.8C625.7 134.8 621.2 136.2 616.7 138.6C615.1 139.4 613.5 140.6 611.9 141.6C610.3 142.6 608.7 143.4 607.2 144.5C606 145.4 604.8 146.5 603.6 147.8C602.5 149 601.5 150.4 600.4 152.3C599.5 153.9 598.6 156.4 597.7 158.4C596.7 160.6 595.7 162.6 594.8 165C593.8 167.1 592.9 169.7 592 171.8C589.1 178.4 586.3 185 583.4 189.9C580.7 194.6 578 200.4 575.3 201.8C572.9 203.1 570.6 204.3 568.2 204.3C566.5 204.3 564.8 202.9 563.2 201.8C561.2 200.5 559.2 198 557.1 195.5C554.5 192.3 551.8 187.3 549.1 183.5C545.8 178.8 542.4 174.5 539.1 170.3C537.1 167.8 535 164.6 533 163.1C531 161.6 529 160.3 527 159.7C524.3 158.8 521.6 158.6 518.9 158C515.5 157.2 512.2 156.4 508.8 155.4C505.4 154.4 502.1 153 498.7 151.6C495.5 150.2 492.3 148.2 489.1 146.7C486.6 145.5 484 144 481.5 143.4C478.9 142.7 476.4 142 473.8 142C468.7 141.9 463.6 141.9 458.5 141.9C453.4 141.9 448.3 143 443.2 143C440.2 143 437.2 142.8 434.2 142.5" stroke="#c00000"/>
<path d="M419.8 143.3C420.5 141.7 421.2 140.2 421.9 138.8C422.9 136.8 423.9 134.2 424.8 133.2C426.9 131 428.9 129.9 431 129C435.1 127.3 439.1 126.2 443.2 125.5C448.3 124.6 453.4 123.9 458.5 123.5C466.2 122.9 473.8 122.7 481.5 122.3C493.5 121.7 505.4 121.3 517.4 120.8C527.6 120.3 537.7 120 547.9 119.3C552.1 119.1 556.4 118.6 560.7 118C563.5 117.6 566.3 117 569.2 116.1C571.3 115.5 573.5 114.5 575.6 113.3C577.7 112.1 579.9 110.3 582 108.1C584.1 105.8 586.3 102.2 588.4 98.6C590.5 94.9 592.7 89.8 594.8 85.7C597.9 79.7 601.1 75.1 604.2 68.4C607.4 61.5 610.6 51.7 613.8 43.8C616.5 37.2 619.1 29.3 621.8 24.8C623.6 21.8 625.4 18.8 627.2 17.7C628.7 16.8 630.2 15.9 631.7 15.9C633.2 15.9 634.7 16.9 636.2 18C637.3 18.8 638.3 21.3 639.4 23.1C642 27.9 644.7 35.4 647.4 39.3C650.1 43.3 652.7 46.8 655.4 48.8C657.5 50.5 659.7 51.8 661.8 52.5C663.8 53.2 665.8 53.8 667.8 53.9L667.8 53.9C668 58.8 668.3 65.3 668.5 67C669.8 76.1 671.1 77.5 672.3 80.9C673.9 84.9 675.4 88.5 676.9 90.4L676.9 90.4C674.4 95.8 672 100.8 669.5 104.2C666.3 108.6 663.2 111.7 660 114.4C656.9 117.1 653.7 119.1 650.5 121.3C647.4 123.6 644.2 126.1 641.1 127.9C637.5 130 633.9 131.7 630.3 133.4C625.7 135.6 621.2 137.2 616.7 139.8C615.1 140.8 613.5 142.1 611.9 143.2C610.3 144.3 608.7 145.1 607.2 146.4C606 147.4 604.8 148.6 603.6 150.1C602.6 151.4 601.5 153 600.4 155.1C599.5 156.8 598.6 159.6 597.7 161.8C596.8 164.3 595.8 166.6 594.8 169.1C593.9 171.6 593 174.4 592 176.8C589.2 184 586.4 191.4 583.6 196.9C580.9 202.1 578.2 208.5 575.5 210.2C573.2 211.6 570.8 212.9 568.5 212.9C566.8 212.9 565.1 211.4 563.4 210.2C561.4 208.7 559.3 205.8 557.3 203.1C554.6 199.6 551.9 194.6 549.2 190.6C545.8 185.7 542.5 181.1 539.1 176.6C537.1 173.9 535.1 170.5 533 168.8C531 167 529 165.7 527 164.9C524.3 163.9 521.6 163.6 518.9 162.9C515.5 162 512.2 161.1 508.8 160C505.4 158.8 502.1 157.4 498.7 155.8C495.5 154.3 492.3 152 489.1 150.3C486.6 149 484 147.3 481.5 146.5C478.9 145.8 476.4 144.9 473.8 144.9C468.7 144.8 463.6 144.8 458.5 144.8C453.4 144.8 448.3 146.1 443.2 146.1C440.8 146.1 438.5 145.9 436.1 145.6" stroke="#800000"/>
</g>
<rect x="415.6" y="5.4" width="265.2" height="213.8" fill="none" stroke="#000" stroke-width="2.6"/>
<text transform="translate(408.8 8.7) scale(1.03 1)" font-size="10.7" text-anchor="end" font-weight="bold">0.020</text>
<text transform="translate(408.8 39.3) scale(1.03 1)" font-size="10.7" text-anchor="end" font-weight="bold">0.015</text>
<text transform="translate(408.8 69.8) scale(1.03 1)" font-size="10.7" text-anchor="end" font-weight="bold">0.010</text>
<text transform="translate(408.8 100.3) scale(1.03 1)" font-size="10.7" text-anchor="end" font-weight="bold">0.005</text>
<text transform="translate(408.8 130.8) scale(1.03 1)" font-size="10.7" text-anchor="end" font-weight="bold">0.000</text>
<text transform="translate(408.8 161.4) scale(1.03 1)" font-size="10.7" text-anchor="end" font-weight="bold">-0.005</text>
<text transform="translate(408.8 191.9) scale(1.03 1)" font-size="10.7" text-anchor="end" font-weight="bold">-0.010</text>
<text transform="translate(408.8 222.4) scale(1.03 1)" font-size="10.7" text-anchor="end" font-weight="bold">-0.015</text>
<path d="M414.6 5.5h-3.5M414.6 36h-3.5M414.6 66.6h-3.5M414.6 97.1h-3.5M414.6 127.6h-3.5M414.6 158.1h-3.5M414.6 188.7h-3.5M414.6 219.2h-3.5M414.6 20.8h-1.6M414.6 51.3h-1.6M414.6 81.8h-1.6M414.6 112.3h-1.6M414.6 142.9h-1.6M414.6 173.4h-1.6M414.6 203.9h-1.6" stroke="#000" stroke-width="2.0" fill="none"/>
<text transform="translate(419.8 234.5) scale(1.045 1)" font-size="10.7" text-anchor="middle" font-weight="bold">0.0</text>
<text transform="translate(462.5 234.5) scale(1.045 1)" font-size="10.7" text-anchor="middle" font-weight="bold">0.1</text>
<text transform="translate(505.2 234.5) scale(1.045 1)" font-size="10.7" text-anchor="middle" font-weight="bold">0.2</text>
<text transform="translate(547.9 234.5) scale(1.045 1)" font-size="10.7" text-anchor="middle" font-weight="bold">0.3</text>
<text transform="translate(590.5 234.5) scale(1.045 1)" font-size="10.7" text-anchor="middle" font-weight="bold">0.4</text>
<text transform="translate(633.2 234.5) scale(1.045 1)" font-size="10.7" text-anchor="middle" font-weight="bold">0.5</text>
<text transform="translate(675.9 234.5) scale(1.045 1)" font-size="10.7" text-anchor="middle" font-weight="bold">0.6</text>
<path d="M419.8 220.2v2.6M462.5 220.2v2.6M505.2 220.2v2.6M547.9 220.2v2.6M590.5 220.2v2.6M633.2 220.2v2.6M675.9 220.2v2.6M441.1 220.2v1.2M483.8 220.2v1.2M526.5 220.2v1.2M569.2 220.2v1.2M611.9 220.2v1.2M654.6 220.2v1.2" stroke="#000" stroke-width="2.0" fill="none"/>
<text transform="translate(373 110.2) rotate(-90) scale(1 1.05)" font-size="17.95" font-weight="bold" text-anchor="middle" stroke="#000" stroke-width="0.4">J / mA cm<tspan dy="-4.6">-2</tspan></text>
<text x="454.1" y="256.7" font-size="18.7" text-anchor="start" font-weight="bold" stroke="#000" stroke-width="0.3">E</text>
<text x="471.1" y="259.2" font-size="15" font-weight="bold" stroke="#000" stroke-width="0.3">(<tspan font-style="italic">vs.</tspan> SCE, 1 M KOH)</text>
<text x="613" y="256.7" font-size="18.7" text-anchor="start" font-weight="bold" stroke="#000" stroke-width="0.3">/ V</text>
<rect x="417.7" y="8.4" width="50.8" height="107.8" fill="#fff" stroke="#555" stroke-width="0.9"/>
<path d="M419.2 13.6H434.7" stroke="#7b00a8" stroke-width="2.6" stroke-linecap="round"/>
<text x="436.6" y="16.1" font-size="7.05" text-anchor="start" font-weight="bold">2mV/s</text>
<path d="M419.2 22.5H434.7" stroke="#3c14f0" stroke-width="2.6" stroke-linecap="round"/>
<text x="436.6" y="25" font-size="7.05" text-anchor="start" font-weight="bold">5 mV/s</text>
<path d="M419.2 31.3H434.7" stroke="#1e90ff" stroke-width="2.6" stroke-linecap="round"/>
<text x="436.6" y="33.9" font-size="7.05" text-anchor="start" font-weight="bold">10 mV/s</text>
<path d="M419.2 40.2H434.7" stroke="#1ef0b4" stroke-width="2.6" stroke-linecap="round"/>
<text x="436.6" y="42.7" font-size="7.05" text-anchor="start" font-weight="bold">25 mV/s</text>
<path d="M419.2 49.1H434.7" stroke="#5af000" stroke-width="2.6" stroke-linecap="round"/>
<text x="436.6" y="51.6" font-size="7.05" text-anchor="start" font-weight="bold">50 mV/s</text>
<path d="M419.2 57.9H434.7" stroke="#d8f000" stroke-width="2.6" stroke-linecap="round"/>
<text x="436.6" y="60.5" font-size="7.05" text-anchor="start" font-weight="bold">75 mV/s</text>
<path d="M419.2 66.8H434.7" stroke="#ffc000" stroke-width="2.6" stroke-linecap="round"/>
<text x="436.6" y="69.4" font-size="7.05" text-anchor="start" font-weight="bold">100 mV/s</text>
<path d="M419.2 75.7H434.7" stroke="#ff5a00" stroke-width="2.6" stroke-linecap="round"/>
<text x="436.6" y="78.2" font-size="7.05" text-anchor="start" font-weight="bold">125 mV/s</text>
<path d="M419.2 84.6H434.7" stroke="#ff0000" stroke-width="2.6" stroke-linecap="round"/>
<text x="436.6" y="87.1" font-size="7.05" text-anchor="start" font-weight="bold">150 mV/s</text>
<path d="M419.2 93.4H434.7" stroke="#ee0000" stroke-width="2.6" stroke-linecap="round"/>
<text x="436.6" y="96" font-size="7.05" text-anchor="start" font-weight="bold">200 mV/s</text>
<path d="M419.2 102.3H434.7" stroke="#c00000" stroke-width="2.6" stroke-linecap="round"/>
<text x="436.6" y="104.8" font-size="7.05" text-anchor="start" font-weight="bold">250 mV/s</text>
<path d="M419.2 111.2H434.7" stroke="#800000" stroke-width="2.6" stroke-linecap="round"/>
<text x="436.6" y="113.7" font-size="7.05" text-anchor="start" font-weight="bold">300 mV/s</text>
<rect x="471.2" y="8.9" width="137.7" height="26.5" fill="#fff" stroke="#555" stroke-width="1"/>
<text transform="translate(472.4 26.2) scale(1.07 1)" font-size="16.85" font-weight="bold">BaS:NiS:Gd<tspan dy="3.2" font-size="16">2</tspan><tspan dy="-3.2" font-size="16.85">S</tspan><tspan dy="3.2" font-size="16">3</tspan></text>
<text x="647.4" y="212.4" font-size="19.3" text-anchor="start" font-weight="bold">(b)</text>
<clipPath id="cc"><rect x="64.4" y="280.8" width="265.3" height="213.9"/></clipPath>
<g fill="none" stroke-linejoin="round" stroke-linecap="round" stroke-width="4" clip-path="url(#cc)">
<path d="M-396 403.8C-394.5 403.7 -392.9 403.6 -391.4 403.6C-389.5 403.4 -387.6 403.3 -385.6 403.3C-381.4 403.1 -377.2 403.1 -373 403C-363.4 402.9 -353.8 402.8 -344.2 402.8C-326.9 402.7 -309.6 402.7 -292.4 402.6C-271.4 402.6 -250.5 402.6 -229.6 402.5C-197.3 402.5 -165 402.5 -132.7 402.4C-105.3 402.4 -77.9 402.3 -50.6 402.3C-41 402.3 -31.4 402.2 -21.8 402.2C-14.1 402.2 -6.4 402.1 1.3 402.1C7 402 12.8 401.9 18.5 401.9C24.3 401.8 30.1 401.7 35.8 401.6C41.6 401.5 47.3 401.3 53.1 401.2C58.8 401 64.6 400.8 70.4 400.6C78 400.4 85.7 400.1 93.4 399.7C100.7 399.4 108 398.9 115.3 398.6C121.4 398.3 127.5 397.9 133.7 397.7C137.5 397.6 141.4 397.4 145.2 397.4C148.7 397.3 152.1 397.2 155.6 397.2C159 397.2 162.5 397.3 165.9 397.4C169 397.4 172.1 397.6 175.1 397.7C182.4 398 189.7 398.6 197 398.9C205.9 399.3 214.7 399.6 223.5 399.8C232 399.9 240.4 400.1 248.8 400.1C264.4 400.1 279.9 400 295.5 399.7L297.5 396.9L297.5 396.9C290.9 397.8 284.3 398.6 277.6 399.2C269.1 399.9 260.6 400.4 252.1 400.9C243.5 401.3 235 401.6 226.5 402C218 402.4 209.5 403 200.9 403C191.2 403.1 181.5 403.1 171.8 403.2C159.6 403.3 147.3 403.3 135.1 403.4C130.7 403.4 126.4 403.4 122.1 403.5C117.9 403.5 113.6 403.5 109.4 403.6C106.1 403.6 102.9 403.6 99.7 403.7C96.7 403.7 93.7 403.8 90.7 403.8C88.3 403.9 85.8 404 83.3 404C80.5 404.1 77.8 404.2 75 404.2C72.3 404.3 69.7 404.4 67 404.4C58.7 404.7 50.3 404.9 42 405C34 405.2 26 405.4 18 405.4C11.5 405.4 4.9 405.5 -1.6 405.5C-6 405.5 -10.4 405.4 -14.8 405.4C-19.7 405.4 -24.6 405.3 -29.6 405.2C-36.1 405.1 -42.6 404.8 -49.1 404.7C-57.7 404.5 -66.2 404.3 -74.7 404.1C-80.1 404 -85.4 403.9 -90.7 403.9C-96.1 403.8 -101.5 403.8 -106.9 403.8C-114.2 403.8 -121.4 403.8 -128.6 403.7C-137.7 403.7 -146.8 403.7 -155.9 403.7C-165 403.6 -174.1 403.5 -183.2 403.5C-191.8 403.4 -200.4 403.4 -209 403.3C-215.9 403.3 -222.7 403.2 -229.6 403.2C-236.5 403.2 -243.4 403.2 -250.3 403.2C-264.1 403.2 -277.8 403.2 -291.6 403.2C-305.3 403.2 -319 403.2 -332.8 403.2C-340.4 403.2 -348 403.2 -355.6 403.2C-364 403.2 -372.4 403.2 -380.7 403.2" stroke="#ff0000"/>
<path d="M-396 404.3C-394.5 404.1 -392.9 404 -391.4 403.9C-389.5 403.7 -387.6 403.5 -385.6 403.4C-381.4 403.2 -377.2 403.1 -373 403C-363.4 402.8 -353.8 402.7 -344.2 402.7C-326.9 402.5 -309.6 402.4 -292.4 402.4C-271.4 402.3 -250.5 402.3 -229.6 402.2C-197.3 402.2 -165 402.1 -132.7 402.1C-105.3 402 -77.9 401.9 -50.6 401.8C-41 401.8 -31.4 401.8 -21.8 401.7C-14.1 401.7 -6.4 401.6 1.3 401.5C7 401.5 12.8 401.3 18.5 401.2C24.3 401.1 30.1 400.9 35.8 400.7C41.6 400.6 47.3 400.3 53.1 400.1C58.8 399.9 64.6 399.6 70.4 399.3C78 398.9 85.7 398.4 93.4 397.8C100.7 397.3 108 396.5 115.3 396C121.4 395.5 127.5 394.9 133.7 394.6C137.5 394.4 141.4 394.2 145.2 394.1C148.7 394 152.1 393.9 155.6 393.9C159 393.9 162.5 394 165.9 394.1C169 394.2 172.1 394.4 175.1 394.6C182.4 395.1 189.7 396 197 396.5C205.9 397.1 214.7 397.6 223.5 397.9C232 398.1 240.4 398.4 248.8 398.4C264.4 398.4 279.9 398.3 295.5 397.7L297.5 394.5L297.5 394.5C290.9 395.7 284.3 396.9 277.6 397.6C269.1 398.7 260.6 399.4 252.1 400C243.5 400.6 235 401.1 226.5 401.6C218 402.1 209.5 402.9 200.9 403C191.2 403.2 181.5 403.3 171.8 403.4C159.6 403.5 147.3 403.6 135.1 403.7C130.7 403.8 126.4 403.9 122.1 403.9C117.9 404 113.6 404 109.4 404.1C106.1 404.2 102.9 404.2 99.7 404.3C96.7 404.4 93.7 404.5 90.7 404.6C88.3 404.7 85.8 404.9 83.3 405C80.6 405.1 77.8 405.3 75 405.4C72.4 405.6 69.7 405.7 67 405.9C58.7 406.3 50.4 406.7 42.1 407C34.2 407.3 26.2 407.7 18.2 407.8C11.7 407.9 5.1 407.9 -1.4 407.9C-5.8 407.9 -10.2 407.9 -14.6 407.8C-19.5 407.7 -24.5 407.6 -29.4 407.4C-36 407.1 -42.5 406.6 -49.1 406.3C-57.6 405.9 -66.2 405.6 -74.7 405.2C-80 405 -85.4 404.8 -90.7 404.7C-96.1 404.6 -101.5 404.6 -106.9 404.5C-114.1 404.5 -121.4 404.5 -128.6 404.4C-137.7 404.4 -146.8 404.4 -155.9 404.3C-165 404.3 -174.1 404.1 -183.2 404.1C-191.8 404 -200.4 403.9 -209 403.8C-215.9 403.7 -222.7 403.6 -229.6 403.6C-236.5 403.6 -243.4 403.5 -250.3 403.5C-264.1 403.5 -277.8 403.5 -291.6 403.5C-305.3 403.5 -319 403.6 -332.8 403.6C-340.4 403.6 -348 403.6 -355.6 403.6C-363.8 403.6 -372 403.6 -380.2 403.6" stroke="#d10000"/>
<path d="M-396 405.1C-394.5 404.8 -392.9 404.6 -391.4 404.4C-389.4 404.1 -387.5 403.8 -385.5 403.6C-381.3 403.3 -377 403.2 -372.8 403C-363.1 402.8 -353.5 402.6 -343.8 402.5C-326.7 402.3 -309.5 402.1 -292.3 402.1C-271.4 402 -250.5 401.9 -229.6 401.8C-197.3 401.7 -165 401.7 -132.7 401.6C-105.3 401.5 -77.9 401.4 -50.6 401.2C-40.9 401.2 -31.2 401.1 -21.6 401C-13.9 400.9 -6.2 400.8 1.4 400.7C7.2 400.6 13 400.4 18.7 400.2C24.5 400 30.2 399.8 36 399.5C41.7 399.2 47.5 398.8 53.3 398.4C59 398 64.8 397.6 70.5 397.1C78.2 396.4 85.9 395.6 93.6 394.7C101 393.9 108.3 392.7 115.6 391.8C121.8 391 128 390.1 134.2 389.5C138 389.2 141.9 388.9 145.8 388.7C149.2 388.6 152.7 388.4 156.2 388.4C159.6 388.4 163.1 388.5 166.6 388.7C169.7 388.9 172.7 389.2 175.8 389.5C183.1 390.3 190.4 391.8 197.7 392.5C206.4 393.4 215.2 394.2 224 394.6C232.4 394.9 240.7 395.3 249.1 395.3C264.3 395.3 279.6 395.2 294.8 394.3L297.5 391.4L297.5 391.4C290.9 393.1 284.3 394.7 277.6 395.7C269.1 397.1 260.6 398.1 252.1 398.9C243.5 399.8 235 400.4 226.5 401.1C218 401.8 209.5 402.8 200.9 403.1C191.2 403.4 181.5 403.5 171.8 403.7C159.6 404 147.3 404.1 135.1 404.4C130.7 404.5 126.4 404.7 122.1 404.8C117.9 404.9 113.6 405 109.4 405.2C106.2 405.3 102.9 405.4 99.7 405.6C96.7 405.8 93.7 406 90.8 406.2C88.3 406.4 85.8 406.7 83.4 407C80.6 407.3 77.9 407.5 75.1 407.8C72.4 408.1 69.8 408.4 67.1 408.7C58.9 409.5 50.6 410.4 42.3 411C34.4 411.6 26.5 412.3 18.6 412.5C12 412.7 5.5 412.8 -1 412.8C-5.4 412.8 -9.8 412.7 -14.2 412.5C-19.2 412.4 -24.2 412.1 -29.2 411.7C-35.8 411.2 -42.3 410.1 -48.9 409.4C-57.5 408.5 -66.1 407.8 -74.7 407.1C-80 406.7 -85.3 406.2 -90.7 406C-96.1 405.8 -101.5 405.7 -106.9 405.6C-114.1 405.6 -121.4 405.6 -128.6 405.5C-137.7 405.4 -146.8 405.4 -155.9 405.3C-165 405.2 -174.1 405 -183.2 404.8C-191.8 404.6 -200.4 404.5 -209 404.3C-215.9 404.2 -222.7 404.1 -229.6 404C-236.5 403.9 -243.4 403.9 -250.3 403.9C-264.1 403.9 -277.8 403.9 -291.6 403.9C-305.3 403.9 -319 404 -332.8 404C-340.4 404 -348 403.9 -355.6 403.9C-363.6 403.9 -371.6 403.9 -379.6 403.9" stroke="#a20000"/>
<path d="M-396 406.5C-394.4 406.1 -392.8 405.7 -391.2 405.4C-389.1 404.9 -387.1 404.4 -385.1 404.1C-380.6 403.6 -376.1 403.4 -371.7 403.2C-361.8 402.7 -352 402.4 -342.1 402.2C-325.5 401.9 -308.9 401.7 -292.2 401.6C-271.3 401.5 -250.5 401.4 -229.6 401.3C-197.3 401.1 -165 401 -132.7 400.9C-105.3 400.7 -77.9 400.6 -50.6 400.4C-40.6 400.3 -30.7 400.2 -20.7 400C-13 399.9 -5.4 399.8 2.3 399.5C8.1 399.4 13.8 399.1 19.6 398.8C25.3 398.4 31.1 398 36.9 397.5C42.6 397 48.4 396.4 54.1 395.6C59.9 394.9 65.6 394 71.4 393.1C79.2 391.9 87 390.7 94.8 389.2C102.4 387.7 109.9 385.6 117.5 383.9C123.8 382.6 130.1 380.9 136.5 380C140.5 379.4 144.5 378.8 148.5 378.5C152.1 378.3 155.6 378 159.2 378C162.8 378 166.3 378.3 169.9 378.5C172.9 378.8 176 379.3 179 379.8C186.3 381 193.5 383.3 200.8 384.4C209.4 385.7 217.9 386.9 226.4 387.4C234.4 387.9 242.3 388.4 250.3 388.4C264 388.4 277.7 388.1 291.4 387L291.4 387C291.6 387.1 291.7 387.2 291.9 387.3C292.8 387.5 293.6 387.5 294.5 387.6C295.5 387.6 296.5 387.7 297.5 387.8L297.5 387.8C290.9 390 284.3 392 277.6 393.4C269.1 395.2 260.6 396.5 252.1 397.6C243.5 398.7 235 399.5 226.5 400.4C218 401.4 209.5 402.6 200.9 403.1C191.2 403.6 181.5 403.8 171.8 404.2C159.6 404.6 147.3 405 135.1 405.5C130.8 405.7 126.4 405.9 122.1 406.2C117.9 406.4 113.6 406.6 109.4 406.8C106.2 407 103 407.3 99.7 407.6C96.8 407.8 93.8 408.1 90.8 408.6C88.4 408.9 85.9 409.5 83.5 409.9C80.7 410.4 77.9 410.9 75.2 411.4C72.6 411.9 69.9 412.5 67.3 412.9C59.1 414.4 50.9 415.9 42.7 417C34.8 418.1 27 419.3 19.1 419.7C12.6 420 6.1 420.2 -0.4 420.2C-4.9 420.2 -9.3 419.9 -13.7 419.7C-18.7 419.4 -23.7 418.9 -28.8 418.3C-35.4 417.4 -42.1 415.6 -48.7 414.5C-57.4 413.1 -66 411.9 -74.6 410.8C-80 410.1 -85.3 409.3 -90.7 408.9C-96.1 408.6 -101.5 408.4 -106.9 408.3C-114.1 408.1 -121.4 408.1 -128.6 408C-137.7 407.8 -146.8 407.7 -155.9 407.5C-165 407.3 -174.1 406.9 -183.2 406.6C-191.8 406.3 -200.4 405.9 -209 405.6C-215.9 405.4 -222.7 405.1 -229.6 405C-236.5 404.9 -243.4 404.8 -250.3 404.8C-264.1 404.8 -277.8 404.8 -291.6 404.8C-305.3 404.8 -319 404.9 -332.8 404.9C-340.4 404.9 -348 404.8 -355.6 404.8C-363.1 404.8 -370.6 404.8 -378.1 404.8" stroke="#740000"/>
<path d="M-396 408.3C-394.3 407.8 -392.7 407.3 -391 406.7C-388.9 406.1 -386.7 405.2 -384.6 404.8C-379.9 404.1 -375.3 403.7 -370.6 403.4C-360.6 402.8 -350.5 402.4 -340.4 402.1C-324.3 401.8 -308.2 401.5 -292.1 401.4C-271.3 401.2 -250.4 401.1 -229.6 400.9C-197.3 400.7 -165 400.6 -132.7 400.4C-105.3 400.2 -77.9 400.1 -50.5 399.8C-40.3 399.7 -30.1 399.5 -19.9 399.3C-12.2 399.2 -4.5 399 3.2 398.6C8.9 398.4 14.7 398.1 20.4 397.6C26.2 397.2 31.9 396.6 37.7 395.8C43.5 395.1 49.2 393.9 55 392.7C60.7 391.5 66.5 390 72.2 388.5C80.2 386.6 88.1 385 96 382.6C103.8 380.4 111.5 377.1 119.2 374.5C125.7 372.3 132.2 369.7 138.7 368.2C142.9 367.2 147.1 366.2 151.3 365.8C154.9 365.5 158.5 365.1 162.1 365.1C165.8 365.1 169.5 365.5 173.1 365.9C176.1 366.2 179.1 367 182.1 367.7C189.4 369.4 196.6 372.4 203.9 373.7C212.2 375.3 220.5 376.7 228.8 377.2C236.4 377.6 243.9 378 251.5 378C263.7 378 275.9 377.7 288.1 376.7L288.1 376.7C288.4 377.7 288.6 379 288.9 379.4C290.2 381.2 291.5 381.5 292.8 382.2C294.4 383 296 383.7 297.5 384.1L297.5 384.1C290.9 386.9 284.3 389.4 277.6 391.1C269.1 393.3 260.6 394.9 252.1 396.3C243.5 397.7 235 398.7 226.5 399.8C218 401 209.5 402.4 200.9 403.1C191.2 403.9 181.5 404.3 171.8 404.8C159.6 405.5 147.3 406 135.1 406.8C130.8 407.1 126.4 407.5 122.1 407.8C117.9 408.2 113.7 408.4 109.4 408.9C106.2 409.2 103 409.5 99.8 410C96.8 410.4 93.8 410.9 90.9 411.5C88.4 412.1 86 412.9 83.5 413.6C80.8 414.4 78.1 415.1 75.3 415.9C72.7 416.6 70.1 417.5 67.5 418.2C59.3 420.5 51.2 422.8 43.1 424.5C35.3 426.1 27.6 428.1 19.8 428.6C13.3 429 6.8 429.4 0.3 429.4C-4.1 429.4 -8.6 429 -13 428.6C-18.1 428.2 -23.2 427.3 -28.2 426.4C-35 425.2 -41.7 422.9 -48.5 421.4C-57.2 419.4 -65.9 417.7 -74.6 416.1C-79.9 415.2 -85.3 414 -90.6 413.5C-96.1 412.9 -101.5 412.6 -106.9 412.4C-114.1 412.1 -121.4 412 -128.6 411.9C-137.7 411.6 -146.8 411.4 -155.9 411.1C-165 410.7 -174.1 410 -183.2 409.4C-191.8 408.8 -200.4 408.1 -209 407.6C-215.9 407.2 -222.7 406.7 -229.6 406.5C-236.5 406.3 -243.4 406.1 -250.3 406.1C-264.1 406.1 -277.8 406.1 -291.6 406.1C-305.3 406.1 -319 406.4 -332.8 406.4C-340.4 406.4 -348 406.3 -355.6 406.3C-362.3 406.3 -369.1 406.3 -375.8 406.3" stroke="#460000"/>
<path d="M-396 409.8C-394.3 409.1 -392.6 408.5 -390.9 407.9C-388.7 407 -386.5 405.9 -384.2 405.4C-379.4 404.5 -374.6 404 -369.9 403.6C-359.6 402.9 -349.4 402.4 -339.2 402.1C-323.5 401.7 -307.7 401.4 -292 401.3C-271.2 401 -250.4 400.9 -229.6 400.7C-197.3 400.5 -165 400.3 -132.7 400.1C-105.3 399.9 -77.9 399.8 -50.6 399.5C-40.1 399.3 -29.7 399.1 -19.3 398.9C-11.6 398.7 -3.9 398.4 3.8 398.1C9.5 397.8 15.3 397.4 21 396.8C26.8 396.3 32.6 395.6 38.3 394.6C44.1 393.6 49.8 392 55.6 390.5C61.4 388.9 67.1 386.7 72.9 384.9C80.9 382.4 88.9 380.4 96.9 377.4C104.8 374.5 112.7 370.2 120.5 366.8C127.1 364 133.8 360.6 140.4 358.6C144.7 357.3 148.9 356 153.2 355.5C156.9 355.1 160.6 354.7 164.3 354.7C168 354.7 171.7 355.2 175.5 355.7C178.4 356 181.4 357.1 184.4 357.9C191.6 359.9 198.9 363.4 206.2 364.9C214.3 366.6 222.4 368.2 230.5 368.6C237.8 369 245.1 369.3 252.4 369.3C263.5 369.3 274.6 369 285.7 368.3L285.7 368.3C286 369.9 286.3 372.1 286.6 372.7C288.3 375.7 290 376.1 291.6 377.3C293.6 378.6 295.6 379.8 297.5 380.4L297.5 380.4C290.9 383.7 284.3 386.7 277.6 388.8C269.1 391.5 260.6 393.3 252.1 395C243.5 396.7 235 397.8 226.5 399.2C218 400.6 209.5 402.3 200.9 403.2C191.2 404.1 181.5 404.7 171.8 405.4C159.6 406.3 147.3 406.9 135.1 408C130.8 408.3 126.5 408.9 122.1 409.3C117.9 409.7 113.7 410.1 109.4 410.6C106.2 411 103 411.5 99.8 412.1C96.8 412.6 93.9 413.3 90.9 414.1C88.5 414.8 86 415.9 83.6 416.8C80.9 417.8 78.1 418.7 75.4 419.8C72.8 420.8 70.2 421.9 67.6 422.8C59.6 425.8 51.5 428.8 43.5 431C35.8 433.1 28.1 435.6 20.4 436.3C13.9 436.9 7.4 437.4 0.9 437.4C-3.5 437.4 -8 436.8 -12.4 436.3C-17.5 435.7 -22.7 434.6 -27.8 433.5C-34.6 432 -41.4 429.2 -48.3 427.4C-57 425 -65.8 422.9 -74.5 420.9C-79.9 419.7 -85.3 418.2 -90.6 417.6C-96 416.9 -101.5 416.4 -106.9 416.1C-114.1 415.7 -121.4 415.6 -128.6 415.4C-137.7 415.1 -146.8 414.8 -155.9 414.3C-165 413.8 -174.1 412.9 -183.2 412.1C-191.8 411.4 -200.4 410.4 -209 409.7C-215.9 409.2 -222.7 408.5 -229.6 408.2C-236.5 408 -243.4 407.7 -250.3 407.7C-264.1 407.7 -277.8 407.7 -291.6 407.7C-305.3 407.7 -319 408 -332.8 408C-340.4 408 -348 407.9 -355.6 407.9C-361.5 407.9 -367.3 407.9 -373.2 407.9" stroke="#170000"/>
<path d="M-396 411C-394.3 410.2 -392.5 409.5 -390.8 408.7C-388.5 407.7 -386.2 406.4 -384 405.9C-379.1 404.8 -374.2 404.2 -369.3 403.7C-358.9 402.8 -348.6 402.3 -338.3 401.9C-322.8 401.4 -307.4 401.2 -291.9 400.9C-271.2 400.7 -250.4 400.5 -229.6 400.3C-197.3 400 -165 399.8 -132.7 399.6C-105.3 399.3 -77.9 399.2 -50.6 398.8C-40 398.7 -29.4 398.4 -18.8 398.1C-11.1 397.9 -3.4 397.6 4.3 397.2C10 396.8 15.8 396.4 21.5 395.8C27.3 395.1 33 394.2 38.8 393.1C44.6 391.9 50.3 390.1 56.1 388.3C61.8 386.4 67.6 383.9 73.3 381.7C81.4 378.7 89.5 376.4 97.6 372.9C105.6 369.5 113.6 364.4 121.5 360.4C128.2 357.1 134.9 353.1 141.6 350.7C146 349.2 150.4 347.6 154.8 347.1C158.5 346.6 162.2 346.2 166 346.2C169.8 346.2 173.5 346.7 177.3 347.3C180.3 347.7 183.2 348.9 186.2 349.9C193.4 352.3 200.7 356.3 207.9 358.1C215.9 360.1 223.9 362 231.9 362.6C238.9 363.1 246 363.6 253 363.6C263.3 363.6 273.5 363.4 283.8 362.6L283.8 362.6C284.2 364.6 284.5 367.2 284.9 367.9C286.8 371.6 288.8 372.2 290.7 373.5C293 375.2 295.3 376.6 297.5 377.4L297.5 377.4C290.9 381.1 284.3 384.5 277.6 386.9C269.1 389.9 260.6 392 252.1 393.9C243.5 395.8 235 397.1 226.5 398.7C218 400.2 209.5 402.1 200.9 403.2C191.2 404.3 181.5 405 171.8 405.8C159.6 406.9 147.3 407.6 135.1 408.9C130.8 409.4 126.5 410 122.1 410.5C117.9 411.1 113.7 411.5 109.4 412.1C106.2 412.6 103 413.2 99.8 413.9C96.9 414.5 93.9 415.3 90.9 416.3C88.5 417.1 86.1 418.5 83.7 419.5C80.9 420.7 78.2 421.8 75.5 423.1C72.9 424.2 70.3 425.6 67.8 426.7C59.8 430.3 51.8 433.8 43.8 436.5C36.1 439 28.5 442 20.9 442.9C14.4 443.5 7.9 444.2 1.5 444.2C-3 444.2 -7.4 443.4 -11.9 442.9C-17.1 442.2 -22.3 440.8 -27.4 439.5C-34.3 437.7 -41.2 435 -48.1 433C-56.9 430.4 -65.7 428.1 -74.5 425.9C-79.8 424.5 -85.2 422.8 -90.6 422C-96 421.2 -101.5 420.5 -106.9 420.2C-114.1 419.7 -121.4 419.6 -128.6 419.3C-137.7 418.9 -146.8 418.5 -155.9 417.9C-165 417.2 -174.1 416 -183.2 415C-191.8 414 -200.4 412.8 -209 411.9C-215.9 411.2 -222.7 410.3 -229.6 410C-236.5 409.6 -243.4 409.3 -250.3 409.3C-264.1 409.2 -277.8 409.2 -291.6 409.2C-305.3 409.2 -319 409.7 -332.8 409.7C-340.4 409.7 -348 409.5 -355.6 409.5C-360.6 409.5 -365.6 409.5 -370.6 409.5" stroke="#001700"/>
<path d="M-396 412.1C-394.2 411.2 -392.5 410.3 -390.7 409.5C-388.4 408.4 -386.1 406.9 -383.7 406.3C-378.7 405 -373.7 404.3 -368.7 403.8C-358.3 402.8 -347.8 402.2 -337.4 401.8C-322.2 401.2 -307.1 400.9 -291.9 400.7C-271.1 400.3 -250.4 400.2 -229.6 400C-197.3 399.6 -165 399.4 -132.7 399.1C-105.3 398.8 -77.9 398.7 -50.6 398.2C-39.8 398.1 -29.1 397.8 -18.3 397.5C-10.7 397.2 -3 396.8 4.7 396.4C10.4 396 16.2 395.4 22 394.7C27.7 394 33.5 393 39.2 391.7C45 390.4 50.7 388.3 56.5 386.2C62.3 384.1 68 381.2 73.8 378.7C81.9 375.3 90 372.6 98.2 368.7C106.3 364.8 114.4 359 122.5 354.4C129.2 350.6 136 346.1 142.8 343.4C147.2 341.7 151.7 339.9 156.2 339.3C159.9 338.8 163.7 338.2 167.5 338.2C171.3 338.2 175.1 338.8 178.9 339.5C181.9 340 184.8 341.4 187.7 342.5C195 345.2 202.2 349.7 209.5 351.9C217.3 354.1 225.2 356.2 233.1 357C239.9 357.6 246.8 358.3 253.6 358.3C263.1 358.3 272.6 358.2 282.1 357.5L282.1 357.5C282.5 359.8 283 362.8 283.4 363.5C285.5 367.7 287.7 368.4 289.8 369.9C292.4 371.8 295 373.4 297.5 374.3L297.5 374.3C290.9 378.5 284.3 382.3 277.6 385C269.1 388.3 260.6 390.7 252.1 392.8C243.5 395 235 396.4 226.5 398.2C218 399.9 209.5 402 200.9 403.2C191.2 404.5 181.5 405.3 171.8 406.2C159.6 407.5 147.3 408.3 135.1 409.8C130.8 410.3 126.5 411 122.2 411.7C117.9 412.3 113.7 412.7 109.4 413.5C106.2 414 103 414.7 99.8 415.5C96.9 416.2 93.9 417.1 91 418.3C88.6 419.2 86.1 420.8 83.7 422C81 423.4 78.3 424.6 75.6 426C73 427.4 70.5 429 67.9 430.3C59.9 434.3 52 438.4 44.1 441.5C36.5 444.4 28.9 447.9 21.3 448.8C14.9 449.6 8.4 450.3 2 450.3C-2.5 450.3 -7 449.5 -11.4 448.8C-16.7 448 -21.9 446.4 -27.1 444.9C-34 442.9 -41 439.9 -47.9 437.7C-56.7 434.8 -65.6 432.2 -74.4 429.7C-79.8 428.2 -85.2 426.2 -90.6 425.3C-96 424.4 -101.5 423.6 -106.9 423.2C-114.1 422.7 -121.4 422.5 -128.6 422.1C-137.7 421.6 -146.8 421.2 -155.9 420.5C-165 419.7 -174.1 418.4 -183.2 417.3C-191.8 416.2 -200.4 414.8 -209 413.8C-215.9 412.9 -222.7 411.9 -229.6 411.5C-236.5 411.1 -243.4 410.6 -250.3 410.6C-264.1 410.6 -277.8 410.6 -291.6 410.6C-305.3 410.6 -319 411.2 -332.8 411.2C-340.4 411.2 -348 410.9 -355.6 410.9C-359.8 410.9 -364.1 410.9 -368.3 410.9" stroke="#004600"/>
<path d="M-396 413.4C-394.2 412.4 -392.4 411.4 -390.6 410.4C-388.2 409.2 -385.8 407.4 -383.5 406.7C-378.3 405.3 -373.2 404.5 -368.1 404C-357.6 402.8 -347 402.1 -336.5 401.6C-321.6 401 -306.7 400.6 -291.8 400.3C-271.1 399.9 -250.3 399.8 -229.6 399.5C-197.3 399.1 -165 398.9 -132.7 398.5C-105.3 398.2 -77.9 398 -50.6 397.6C-39.7 397.4 -28.8 397.1 -17.9 396.7C-10.2 396.4 -2.5 396 5.2 395.4C10.9 395 16.7 394.4 22.4 393.6C28.2 392.8 34 391.6 39.7 390.1C45.5 388.6 51.2 386.2 57 383.8C62.7 381.4 68.5 378.1 74.3 375.3C82.5 371.4 90.7 368.3 98.9 363.8C107.1 359.4 115.3 352.8 123.5 347.6C130.3 343.2 137.2 338 144.1 335C148.6 333 153.2 331 157.7 330.3C161.5 329.7 165.3 329.1 169.1 329.1C173 329.1 176.9 329.8 180.8 330.5C183.7 331 186.6 332.6 189.5 333.9C196.7 337 204 342.2 211.2 344.6C219 347.2 226.7 349.6 234.4 350.6C241.1 351.4 247.7 352.2 254.3 352.2C263 352.2 271.6 352.2 280.3 351.7L280.3 351.7C280.7 354.5 281.2 358.2 281.6 359.2C284.1 364.3 286.5 365.1 288.9 367.1C291.8 369.4 294.7 371.4 297.5 372.5L297.5 372.5C290.9 377 284.3 381 277.6 383.8C269.1 387.4 260.6 389.9 252.1 392.2C243.5 394.4 235 396 226.5 397.9C218 399.7 209.5 401.9 200.9 403.2C191.2 404.7 181.5 405.7 171.8 406.8C159.6 408.3 147.3 409.3 135.1 411C130.8 411.6 126.5 412.5 122.2 413.2C117.9 413.9 113.7 414.5 109.5 415.4C106.3 416 103.1 416.8 99.9 417.8C96.9 418.6 94 419.7 91 421C88.6 422.2 86.2 424 83.8 425.4C81.1 427.1 78.4 428.6 75.7 430.2C73.2 431.8 70.6 433.7 68 435.2C60.2 440 52.3 444.9 44.5 448.4C37 451.9 29.4 456 21.9 457.1C15.5 458.1 9.1 458.9 2.7 458.9C-1.8 458.9 -6.3 457.9 -10.8 457.1C-16.1 456.2 -21.3 454.3 -26.6 452.5C-33.6 450.1 -40.7 446.4 -47.7 443.6C-56.6 440.1 -65.5 437 -74.4 433.9C-79.8 432.1 -85.2 429.8 -90.6 428.6C-96 427.5 -101.4 426.6 -106.9 426.2C-114.1 425.6 -121.4 425.4 -128.6 424.9C-137.7 424.4 -146.8 423.9 -155.9 423C-165 422.2 -174.1 420.9 -183.2 419.6C-191.8 418.4 -200.4 416.9 -209 415.7C-215.9 414.8 -222.7 413.7 -229.6 413.2C-236.5 412.7 -243.4 412.2 -250.3 412.2C-264.1 412.2 -277.8 412.2 -291.6 412.2C-305.3 412.2 -319 412.8 -332.8 412.8C-340.4 412.8 -348 412.6 -355.6 412.6C-359 412.6 -362.3 412.6 -365.7 412.6" stroke="#007400"/>
<path d="M-396 415.2C-394.2 414 -392.3 412.8 -390.5 411.7C-388 410.2 -385.6 408.2 -383.1 407.4C-377.8 405.7 -372.6 404.8 -367.3 404.1C-356.6 402.8 -345.9 401.9 -335.2 401.4C-320.7 400.6 -306.2 400.2 -291.7 399.9C-271 399.4 -250.3 399.2 -229.6 398.9C-197.3 398.5 -165 398.2 -132.7 397.7C-105.3 397.4 -77.9 397.2 -50.6 396.6C-39.4 396.4 -28.3 396 -17.2 395.6C-9.5 395.2 -1.9 394.8 5.8 394.1C11.6 393.6 17.3 392.9 23.1 391.9C28.8 391 34.6 389.6 40.4 387.8C46.1 386.1 51.9 383.3 57.6 380.5C63.4 377.6 69.2 373.7 74.9 370.5C83.2 365.8 91.5 362.3 99.8 357C108.1 351.7 116.5 344 124.8 337.9C131.8 332.8 138.8 326.7 145.8 323.2C150.5 320.9 155.1 318.5 159.8 317.6C163.6 316.9 167.5 316.2 171.4 316.2C175.3 316.2 179.3 317 183.2 317.9C186.1 318.5 189 320.4 191.9 321.9C199.1 325.5 206.4 331.5 213.6 334.5C221.1 337.6 228.7 340.3 236.3 341.6C242.6 342.7 248.9 343.9 255.2 343.9C262.7 343.9 270.2 343.9 277.7 343.8L277.7 343.8C278.3 347.3 278.8 351.8 279.3 353C282.1 359.4 284.9 360.4 287.6 362.8C290.9 365.6 294.2 368.1 297.5 369.4L297.5 369.4C290.9 374.3 284.3 378.8 277.6 381.9C269.1 385.8 260.6 388.6 252.1 391.1C243.5 393.6 235 395.3 226.5 397.3C218 399.4 209.5 401.7 200.9 403.3C191.2 405 181.5 406.2 171.8 407.5C159.6 409.3 147.3 410.5 135.1 412.5C130.8 413.2 126.5 414.3 122.2 415.1C117.9 416 113.7 416.6 109.5 417.7C106.3 418.4 103.1 419.4 99.9 420.5C97 421.5 94 422.8 91.1 424.4C88.7 425.7 86.3 427.9 83.9 429.6C81.2 431.5 78.5 433.3 75.9 435.3C73.3 437.2 70.8 439.4 68.3 441.3C60.5 446.9 52.7 452.7 45 456.9C37.5 461 30.1 465.9 22.7 467.2C16.3 468.3 9.9 469.3 3.5 469.3C-1 469.3 -5.5 468.2 -10 467.2C-15.4 466.1 -20.7 463.9 -26 461.8C-33.2 458.9 -40.3 454.4 -47.4 451.1C-56.4 446.9 -65.3 443.1 -74.3 439.5C-79.7 437.3 -85.1 434.5 -90.6 433.2C-96 431.9 -101.4 430.8 -106.9 430.3C-114.1 429.6 -121.4 429.3 -128.6 428.8C-137.7 428.2 -146.8 427.5 -155.9 426.6C-165 425.7 -174.1 424.5 -183.2 423.1C-191.8 421.9 -200.4 420.2 -209 418.9C-215.9 417.8 -222.7 416.5 -229.6 416C-236.5 415.4 -243.4 414.8 -250.3 414.8C-264.1 414.8 -277.8 414.7 -291.6 414.7C-305.3 414.7 -319 415.6 -332.8 415.6C-340.4 415.6 -348 415.2 -355.6 415.2C-357.5 415.2 -359.4 415.2 -361.4 415.2" stroke="#00a200"/>
<path d="M-396 416.9C-394.1 415.5 -392.2 414.2 -390.4 412.9C-387.8 411.2 -385.3 408.9 -382.8 408C-377.4 406 -372 405 -366.6 404.3C-355.7 402.7 -344.9 401.8 -334 401.1C-319.9 400.3 -305.8 399.8 -291.6 399.4C-271 398.9 -250.3 398.6 -229.6 398.3C-197.3 397.8 -165 397.5 -132.7 397C-105.3 396.6 -77.9 396.3 -50.6 395.7C-39.2 395.4 -27.9 395.1 -16.6 394.5C-8.9 394.1 -1.3 393.6 6.4 392.8C12.2 392.3 17.9 391.4 23.7 390.4C29.4 389.3 35.2 387.7 41 385.7C46.7 383.7 52.5 380.5 58.2 377.3C64 374.1 69.7 369.6 75.5 365.9C83.9 360.6 92.2 356.5 100.6 350.6C109.1 344.5 117.6 335.7 126.1 328.8C133.2 323 140.3 315.9 147.4 311.9C152.2 309.3 156.9 306.6 161.7 305.6C165.6 304.8 169.6 304 173.5 304C177.5 304 181.5 304.9 185.5 305.9C188.4 306.6 191.2 308.8 194.1 310.5C201.3 314.6 208.5 321.4 215.8 324.8C223.1 328.3 230.5 331.4 237.9 333.1C244 334.4 250 335.7 256 336C262.5 336.3 268.9 336.6 275.4 336.6L275.4 336.6C276 340.8 276.6 346.3 277.2 347.7C280.3 355.4 283.4 356.6 286.5 359.5C290.2 363 293.9 366 297.5 367.6L297.5 367.6C290.9 372.8 284.3 377.5 277.6 380.7C269.1 384.9 260.6 387.8 252.1 390.5C243.5 393.1 235 394.9 226.5 397C218 399.2 209.5 401.6 200.9 403.3C191.2 405.3 181.5 406.7 171.8 408.2C159.6 410.3 147.3 411.6 135.1 414C130.8 414.9 126.5 416 122.2 417C117.9 418 113.7 418.8 109.5 420C106.3 420.8 103.1 421.9 99.9 423.3C97 424.5 94.1 425.9 91.1 427.8C88.8 429.3 86.4 431.8 84 433.8C81.3 436 78.7 438.1 76 440.4C73.5 442.6 71 445.1 68.5 447.3C60.8 453.8 53.1 460.5 45.4 465.4C38.1 470.1 30.8 475.8 23.4 477.3C17.1 478.6 10.7 479.8 4.4 479.8C-0.2 479.8 -4.7 478.4 -9.3 477.3C-14.7 476 -20.1 473.5 -25.5 471C-32.7 467.7 -39.9 462.7 -47.1 459C-56.1 454.3 -65.2 449.9 -74.2 445.7C-79.7 443.2 -85.1 440.1 -90.5 438.5C-96 437 -101.4 435.8 -106.9 435.1C-114.1 434.3 -121.4 434 -128.6 433.4C-137.7 432.6 -146.8 431.9 -155.9 430.9C-165 429.8 -174.1 428.5 -183.2 427C-191.8 425.6 -200.4 423.6 -209 422.1C-215.9 420.9 -222.7 419.4 -229.6 418.8C-236.5 418.1 -243.4 417.4 -250.3 417.4C-264.1 417.3 -277.8 417.3 -291.6 417.3C-305.3 417.3 -319 418.4 -332.8 418.4C-340.9 418.4 -349 418.2 -357 417.9" stroke="#00d100"/>
<path d="M-396 418.7C-394.1 417.1 -392.2 415.6 -390.2 414.2C-387.6 412.3 -385 409.7 -382.4 408.6C-376.9 406.4 -371.4 405.3 -365.8 404.4C-354.8 402.7 -343.8 401.6 -332.8 400.9C-319 400 -305.3 399.3 -291.6 398.9C-270.9 398.3 -250.3 398.1 -229.6 397.7C-197.3 397.1 -165 396.7 -132.7 396.2C-105.3 395.8 -77.9 395.5 -50.6 394.8C-39 394.5 -27.5 394 -16 393.4C-8.3 393 -0.7 392.4 7 391.5C12.8 390.9 18.5 389.9 24.3 388.7C30.1 387.5 35.8 385.7 41.6 383.5C47.3 381.2 53.1 377.6 58.8 374C64.6 370.3 70.4 365.2 76.1 361.1C84.6 355.1 93 350.5 101.4 343.8C110.1 336.9 118.7 327 127.4 319.1C134.6 312.6 141.8 304.6 149 300.1C153.9 297.1 158.8 294.1 163.6 293C167.6 292.1 171.6 291.2 175.6 291.2C179.7 291.2 183.7 292.2 187.8 293.3C190.7 294.1 193.5 296.6 196.3 298.5C203.5 303.2 210.8 310.7 218 314.7C225.2 318.7 232.4 322.1 239.6 324.2C245.4 325.8 251.1 327.2 256.9 327.9C262.3 328.5 267.6 329.1 273 329.2L273 329.2C273.7 334.2 274.3 340.6 275 342.4C278.4 351.4 281.9 352.8 285.3 356.2C289.4 360.3 293.5 363.9 297.5 365.7L297.5 365.7C290.9 371.2 284.3 376.2 277.6 379.6C269.1 384 260.6 387.1 252.1 389.8C243.5 392.6 235 394.5 226.5 396.7C218 399 209.5 401.5 200.9 403.3C191.2 405.5 181.5 407.1 171.8 408.8C159.6 411.1 147.3 412.6 135.1 415.3C130.8 416.2 126.5 417.5 122.2 418.6C118 419.7 113.7 420.5 109.5 421.9C106.3 422.8 103.1 424.1 100 425.5C97 426.9 94.1 428.4 91.2 430.5C88.8 432.2 86.4 435 84.1 437.3C81.4 439.7 78.8 442 76.1 444.6C73.6 447 71.1 449.8 68.6 452.2C61 459.5 53.4 466.9 45.8 472.4C38.6 477.6 31.3 484 24.1 485.7C17.7 487.1 11.4 488.3 5.1 488.3C0.5 488.3 -4.1 486.9 -8.6 485.7C-14.1 484.2 -19.5 481.3 -25 478.6C-32.3 475.1 -39.6 470.1 -46.9 466.1C-56 461.2 -65.1 456.5 -74.2 452C-79.6 449.3 -85.1 445.9 -90.5 444.2C-96 442.5 -101.4 441.1 -106.9 440.4C-114.1 439.4 -121.4 439.1 -128.6 438.4C-137.7 437.4 -146.8 436.6 -155.9 435.4C-165 434.3 -174.1 432.9 -183.2 431.3C-191.8 429.7 -200.4 427.5 -209 425.8C-215.9 424.4 -222.7 422.7 -229.6 422C-236.5 421.2 -243.4 420.3 -250.3 420.3C-264.1 420.3 -277.8 420.3 -291.6 420.3C-305.3 420.3 -319 421.5 -332.8 421.5C-339.2 421.5 -345.7 421.3 -352.1 421" stroke="#00ff00"/>
</g>
<rect x="64.4" y="280.8" width="265.3" height="213.9" fill="none" stroke="#000" stroke-width="2.6"/>
<text transform="translate(57 284) scale(1.03 1)" font-size="10.7" text-anchor="end" font-weight="bold">0.020</text>
<text transform="translate(57 314.6) scale(1.03 1)" font-size="10.7" text-anchor="end" font-weight="bold">0.015</text>
<text transform="translate(57 345.1) scale(1.03 1)" font-size="10.7" text-anchor="end" font-weight="bold">0.010</text>
<text transform="translate(57 375.7) scale(1.03 1)" font-size="10.7" text-anchor="end" font-weight="bold">0.005</text>
<text transform="translate(57 406.3) scale(1.03 1)" font-size="10.7" text-anchor="end" font-weight="bold">0.000</text>
<text transform="translate(57 436.8) scale(1.03 1)" font-size="10.7" text-anchor="end" font-weight="bold">-0.005</text>
<text transform="translate(57 467.4) scale(1.03 1)" font-size="10.7" text-anchor="end" font-weight="bold">-0.010</text>
<text transform="translate(57 497.9) scale(1.03 1)" font-size="10.7" text-anchor="end" font-weight="bold">-0.015</text>
<path d="M63.4 280.8h-3.5M63.4 311.4h-3.5M63.4 341.9h-3.5M63.4 372.5h-3.5M63.4 403h-3.5M63.4 433.6h-3.5M63.4 464.1h-3.5M63.4 494.7h-3.5M63.4 296.1h-1.6M63.4 326.6h-1.6M63.4 357.2h-1.6M63.4 387.8h-1.6M63.4 418.3h-1.6M63.4 448.9h-1.6M63.4 479.4h-1.6" stroke="#000" stroke-width="2.0" fill="none"/>
<text transform="translate(64.6 510.1) scale(1.045 1)" font-size="10.7" text-anchor="middle" font-weight="bold">0.40</text>
<text transform="translate(122.2 510.1) scale(1.045 1)" font-size="10.7" text-anchor="middle" font-weight="bold">0.45</text>
<text transform="translate(179.8 510.1) scale(1.045 1)" font-size="10.7" text-anchor="middle" font-weight="bold">0.50</text>
<text transform="translate(237.3 510.1) scale(1.045 1)" font-size="10.7" text-anchor="middle" font-weight="bold">0.55</text>
<text transform="translate(294.9 510.1) scale(1.045 1)" font-size="10.7" text-anchor="middle" font-weight="bold">0.60</text>
<path d="M64.6 495.7v2.6M122.2 495.7v2.6M179.8 495.7v2.6M237.3 495.7v2.6M294.9 495.7v2.6M93.4 495.7v1.2M151 495.7v1.2M208.5 495.7v1.2M266.1 495.7v1.2M323.7 495.7v1.2" stroke="#000" stroke-width="2.0" fill="none"/>
<text transform="translate(19.5 385.4) rotate(-90) scale(1 1.05)" font-size="17.85" font-weight="bold" text-anchor="middle" stroke="#000" stroke-width="0.4">J / mA cm<tspan dy="-4.6">-2</tspan></text>
<text x="102.4" y="533.2" font-size="18.7" text-anchor="start" font-weight="bold" stroke="#000" stroke-width="0.3">E</text>
<text x="119.4" y="535.7" font-size="15" font-weight="bold" stroke="#000" stroke-width="0.3">(<tspan font-style="italic">vs.</tspan> SCE, 1 M KOH)</text>
<text x="261.3" y="533.2" font-size="18.7" text-anchor="start" font-weight="bold" stroke="#000" stroke-width="0.3">/ V</text>
<rect x="285.5" y="400.8" width="41" height="89.8" fill="#fff" stroke="#555" stroke-width="0.9"/>
<path d="M286.1 405H299.2" stroke="#ff0000" stroke-width="3.8" stroke-linecap="round"/>
<text x="301.3" y="407" font-size="5.6" text-anchor="start" font-weight="bold">2mV/s</text>
<path d="M286.1 412.4H299.2" stroke="#d10000" stroke-width="3.8" stroke-linecap="round"/>
<text x="301.3" y="414.4" font-size="5.6" text-anchor="start" font-weight="bold">5 mV/s</text>
<path d="M286.1 419.8H299.2" stroke="#a20000" stroke-width="3.8" stroke-linecap="round"/>
<text x="301.3" y="421.9" font-size="5.6" text-anchor="start" font-weight="bold">10 mV/s</text>
<path d="M286.1 427.3H299.2" stroke="#740000" stroke-width="3.8" stroke-linecap="round"/>
<text x="301.3" y="429.3" font-size="5.6" text-anchor="start" font-weight="bold">25 mV/s</text>
<path d="M286.1 434.7H299.2" stroke="#460000" stroke-width="3.8" stroke-linecap="round"/>
<text x="301.3" y="436.7" font-size="5.6" text-anchor="start" font-weight="bold">50 mV/s</text>
<path d="M286.1 442.1H299.2" stroke="#170000" stroke-width="3.8" stroke-linecap="round"/>
<text x="301.3" y="444.1" font-size="5.6" text-anchor="start" font-weight="bold">75 mV/s</text>
<path d="M286.1 449.5H299.2" stroke="#001700" stroke-width="3.8" stroke-linecap="round"/>
<text x="301.3" y="451.5" font-size="5.6" text-anchor="start" font-weight="bold">100 mV/s</text>
<path d="M286.1 456.9H299.2" stroke="#004600" stroke-width="3.8" stroke-linecap="round"/>
<text x="301.3" y="459" font-size="5.6" text-anchor="start" font-weight="bold">125 mV/s</text>
<path d="M286.1 464.4H299.2" stroke="#007400" stroke-width="3.8" stroke-linecap="round"/>
<text x="301.3" y="466.4" font-size="5.6" text-anchor="start" font-weight="bold">150 mV/s</text>
<path d="M286.1 471.8H299.2" stroke="#00a200" stroke-width="3.8" stroke-linecap="round"/>
<text x="301.3" y="473.8" font-size="5.6" text-anchor="start" font-weight="bold">200 mV/s</text>
<path d="M286.1 479.2H299.2" stroke="#00d100" stroke-width="3.8" stroke-linecap="round"/>
<text x="301.3" y="481.2" font-size="5.6" text-anchor="start" font-weight="bold">250 mV/s</text>
<path d="M286.1 486.6H299.2" stroke="#00ff00" stroke-width="3.8" stroke-linecap="round"/>
<text x="301.3" y="488.6" font-size="5.6" text-anchor="start" font-weight="bold">300 mV/s</text>
<rect x="144.2" y="463.1" width="137.7" height="26.5" fill="#fff" stroke="#555" stroke-width="1"/>
<text transform="translate(146 481.2) scale(1.07 1)" font-size="16.85" font-weight="bold">BaS:NiS:Gd<tspan dy="3.2" font-size="16">2</tspan><tspan dy="-3.2" font-size="16.85">S</tspan><tspan dy="3.2" font-size="16">3</tspan></text>
<text x="113.4" y="480.9" font-size="19.3" text-anchor="start" font-weight="bold">(c)</text>
<clipPath id="cd"><rect x="415.6" y="280.8" width="262.9" height="211.5"/></clipPath>
<g fill="none" stroke-linejoin="round" stroke-linecap="round" stroke-width="4" clip-path="url(#cd)">
<path d="M421.6 334.7C422.4 334.5 423.1 334.4 423.9 334.2C424.8 334 425.8 333.8 426.7 333.7C428.8 333.5 430.9 333.4 433 333.3C437.8 333.1 442.5 333 447.3 332.9C455.8 332.7 464.4 332.7 472.9 332.6C483.3 332.5 493.6 332.5 504 332.4C520 332.4 536 332.3 552 332.2C565.6 332.2 579.1 332.1 592.7 332C597.4 332 602.2 331.9 606.9 331.8C610.7 331.8 614.5 331.7 618.3 331.6C621.2 331.6 624 331.4 626.9 331.3C629.7 331.2 632.6 331 635.4 330.8C638.3 330.6 641.1 330.3 644 330.1C646.8 329.8 649.7 329.5 652.6 329.2C656.4 328.7 660.2 328.2 664 327.6C667.6 327 671.2 326.2 674.8 325.6C677.8 325 680.9 324.4 683.9 324C685.8 323.8 687.7 323.6 689.6 323.5C691.3 323.4 693 323.2 694.7 323.2C696.5 323.2 698.2 323.4 699.9 323.5C701.4 323.6 702.9 323.8 704.4 324C708.1 324.6 711.7 325.6 715.3 326.2C719.7 326.8 724 327.4 728.4 327.7C732.6 327.9 736.8 328.2 740.9 328.2C748.6 328.2 756.3 328.1 764 327.5L765.1 322.7L765.1 322.7C761.8 324.3 758.5 325.7 755.2 326.6C751 327.9 746.8 328.8 742.5 329.5C738.3 330.3 734.1 330.9 729.9 331.5C725.7 332.1 721.4 333.2 717.2 333.3C712.4 333.5 707.6 333.5 702.8 333.6C696.7 333.7 690.7 333.8 684.6 333.9C682.5 334 680.3 334 678.2 334.1C676.1 334.1 674 334.2 671.9 334.2C670.3 334.3 668.7 334.3 667.1 334.4C665.6 334.5 664.1 334.6 662.6 334.7C661.4 334.8 660.2 334.9 659 335C657.6 335.1 656.2 335.2 654.8 335.4C653.5 335.5 652.2 335.6 650.9 335.8C646.8 336.1 642.6 336.5 638.5 336.8C634.6 337 630.6 337.3 626.6 337.4C623.4 337.5 620.1 337.6 616.9 337.6C614.7 337.6 612.6 337.5 610.4 337.4C608 337.3 605.5 337.2 603.1 337.1C599.8 336.9 596.6 336.4 593.4 336.1C589.1 335.8 584.9 335.5 580.7 335.2C578.1 335 575.4 334.8 572.8 334.8C570.1 334.7 567.4 334.6 564.8 334.6C561.2 334.6 557.6 334.5 554 334.5C549.5 334.5 545 334.5 540.5 334.4C536 334.4 531.5 334.2 527 334.1C522.7 334 518.5 333.9 514.2 333.8C510.8 333.8 507.4 333.7 504 333.6C500.6 333.6 497.2 333.6 493.7 333.6C486.9 333.6 480.1 333.6 473.3 333.6C466.5 333.6 459.7 333.6 452.9 333.6C449.1 333.6 445.4 333.6 441.6 333.6C437.5 333.6 433.3 333.6 429.2 333.6" stroke="#ff0000"/>
<path d="M421.6 335.5C422.4 335.2 423.1 335 423.9 334.7C424.8 334.4 425.8 334.1 426.7 333.9C428.8 333.6 430.9 333.4 433 333.3C437.8 333 442.5 332.8 447.3 332.7C455.8 332.4 464.4 332.3 472.9 332.2C483.3 332.1 493.6 332 504 332C520 331.8 536 331.8 552 331.6C565.6 331.5 579.1 331.4 592.7 331.2C597.4 331.2 602.2 331.1 606.9 331C610.7 330.9 614.5 330.8 618.3 330.7C621.2 330.6 624 330.3 626.9 330.1C629.7 329.9 632.6 329.6 635.4 329.3C638.3 329 641.1 328.6 644 328.2C646.8 327.8 649.7 327.3 652.6 326.8C656.4 326.1 660.2 325.2 664 324.2C667.6 323.3 671.2 322.1 674.8 321.1C677.8 320.2 680.9 319.3 683.9 318.7C685.8 318.3 687.7 318 689.6 317.8C691.3 317.6 693 317.4 694.7 317.4C696.5 317.4 698.2 317.6 699.9 317.8C701.4 318 702.9 318.3 704.4 318.7C708.1 319.5 711.7 321.2 715.3 322C719.7 323 724 323.9 728.4 324.4C732.6 324.8 736.8 325.3 740.9 325.3C748.6 325.3 756.3 325.1 764 324.1L765.1 318.5L765.1 318.5C761.8 320.7 758.5 322.6 755.2 324C751 325.7 746.8 326.9 742.5 328C738.3 329.1 734.1 329.9 729.9 330.8C725.7 331.7 721.4 333.1 717.2 333.3C712.4 333.6 707.6 333.7 702.8 333.9C696.7 334.1 690.7 334.3 684.6 334.5C682.5 334.6 680.3 334.7 678.2 334.9C676.1 335 674 335 671.9 335.2C670.3 335.3 668.7 335.4 667.1 335.5C665.6 335.7 664.1 335.8 662.6 336C661.4 336.2 660.2 336.5 659 336.7C657.6 337 656.2 337.2 654.9 337.4C653.5 337.7 652.2 338 650.9 338.2C646.8 338.9 642.7 339.7 638.6 340.2C634.6 340.7 630.7 341.4 626.7 341.5C623.5 341.7 620.2 341.8 617 341.8C614.8 341.8 612.7 341.7 610.5 341.5C608 341.4 605.6 341.1 603.1 340.8C599.9 340.4 596.6 339.5 593.4 339C589.2 338.3 584.9 337.7 580.7 337.1C578.1 336.8 575.4 336.4 572.8 336.2C570.1 336.1 567.4 335.9 564.8 335.9C561.2 335.8 557.6 335.8 554 335.7C549.5 335.7 545 335.6 540.5 335.5C536 335.4 531.5 335.2 527 335.1C522.7 334.9 518.5 334.7 514.2 334.6C510.8 334.5 507.4 334.4 504 334.3C500.6 334.3 497.2 334.2 493.7 334.2C486.9 334.2 480.1 334.2 473.3 334.2C466.5 334.2 459.7 334.3 452.9 334.3C449.1 334.3 445.4 334.2 441.6 334.2C437.6 334.2 433.5 334.2 429.4 334.2" stroke="#d10000"/>
<path d="M421.6 336.9C422.4 336.4 423.1 336 423.9 335.6C424.9 335.1 425.8 334.6 426.8 334.3C428.9 333.8 431 333.5 433.1 333.3C437.9 332.8 442.7 332.5 447.4 332.3C455.9 332 464.4 331.8 472.9 331.6C483.3 331.4 493.6 331.4 504 331.2C520 331.1 536 330.9 552 330.7C565.6 330.6 579.1 330.4 592.7 330.1C597.5 330.1 602.2 329.9 607 329.8C610.8 329.6 614.6 329.5 618.4 329.3C621.3 329.1 624.1 328.8 627 328.4C629.8 328.1 632.7 327.6 635.5 327.1C638.4 326.6 641.2 326 644.1 325.3C646.9 324.6 649.8 323.9 652.6 323C656.5 321.8 660.3 320.5 664.1 318.9C667.7 317.5 671.3 315.4 675 313.8C678 312.4 681.1 310.9 684.1 309.9C686.1 309.3 688 308.8 689.9 308.5C691.6 308.2 693.3 307.9 695.1 307.9C696.8 307.9 698.5 308.2 700.2 308.5C701.7 308.8 703.2 309.3 704.8 309.9C708.4 311.2 712 313.8 715.6 315C719.9 316.6 724.3 318 728.6 318.6C732.8 319.3 736.9 320 741.1 320C748.6 320 756.2 319.7 763.7 318.1L765.1 313.2L765.1 313.2C761.8 316.1 758.5 318.8 755.2 320.6C751 323 746.8 324.7 742.5 326.2C738.3 327.6 734.1 328.7 729.9 329.9C725.7 331.1 721.4 332.9 717.2 333.4C712.4 333.9 707.6 334.1 702.8 334.5C696.7 334.9 690.7 335.2 684.6 335.7C682.5 335.9 680.3 336.2 678.2 336.4C676.1 336.6 674 336.8 671.9 337.1C670.3 337.3 668.7 337.5 667.1 337.8C665.6 338.1 664.1 338.4 662.7 338.8C661.4 339.1 660.2 339.7 659 340.1C657.6 340.6 656.3 341.1 654.9 341.6C653.6 342.1 652.3 342.6 651 343.1C646.9 344.6 642.8 346 638.7 347.1C634.8 348.2 630.8 349.4 626.9 349.8C623.7 350.1 620.4 350.3 617.2 350.3C615 350.3 612.8 350 610.7 349.8C608.2 349.5 605.7 349 603.3 348.4C600 347.5 596.7 345.5 593.5 344.3C589.2 342.8 585 341.5 580.7 340.4C578.1 339.7 575.4 338.8 572.8 338.5C570.1 338.2 567.4 337.9 564.8 337.8C561.2 337.7 557.6 337.7 554 337.6C549.5 337.5 545 337.4 540.5 337.2C536 337 531.5 336.7 527 336.4C522.7 336.1 518.5 335.8 514.2 335.5C510.8 335.3 507.4 335.1 504 335C500.6 334.9 497.2 334.8 493.7 334.8C486.9 334.8 480.1 334.8 473.3 334.8C466.5 334.8 459.7 334.9 452.9 334.9C449.1 334.9 445.4 334.9 441.6 334.9C437.7 334.9 433.7 334.9 429.7 334.9" stroke="#a20000"/>
<path d="M421.6 339.4C422.4 338.7 423.2 338 424 337.4C425 336.6 426 335.6 427 335.2C429.2 334.3 431.4 333.9 433.6 333.5C438.5 332.7 443.4 332.3 448.3 331.9C456.5 331.4 464.8 331.1 473 330.9C483.3 330.6 493.7 330.5 504 330.3C520 330 536 329.8 552 329.5C565.6 329.3 579.1 329.1 592.7 328.7C597.6 328.5 602.5 328.3 607.4 328.1C611.2 327.9 615.1 327.6 618.9 327.3C621.7 327 624.6 326.5 627.4 325.9C630.3 325.4 633.1 324.7 636 323.8C638.8 322.9 641.7 321.7 644.5 320.5C647.4 319.2 650.2 317.7 653.1 316.1C656.9 314 660.8 311.9 664.7 309.3C668.4 306.7 672.1 303.1 675.9 300.2C679 297.8 682.2 295 685.3 293.4C687.3 292.3 689.3 291.3 691.3 290.8C693 290.4 694.8 289.9 696.5 289.9C698.3 289.9 700.1 290.4 701.8 290.9C703.3 291.3 704.8 292.2 706.3 293.1C710 295.2 713.6 299.1 717.2 301C721.4 303.3 725.6 305.3 729.8 306.2C733.8 307 737.7 307.9 741.7 307.9C748.4 307.9 755.2 307.4 762 305.5L762 305.5C762.1 305.7 762.2 305.9 762.3 306C762.7 306.3 763.1 306.4 763.5 306.5C764 306.6 764.6 306.8 765.1 306.8L765.1 306.8C761.8 310.7 758.5 314.2 755.2 316.7C751 319.8 746.8 322 742.5 323.9C738.3 325.9 734.1 327.2 729.9 328.8C725.7 330.4 721.4 332.6 717.2 333.4C712.4 334.4 707.6 334.7 702.8 335.3C696.7 336.1 690.7 336.6 684.6 337.6C682.5 337.9 680.3 338.4 678.2 338.7C676.1 339.1 674 339.4 671.9 339.9C670.3 340.2 668.7 340.6 667.1 341.1C665.6 341.6 664.2 342.2 662.7 342.9C661.5 343.5 660.3 344.5 659 345.2C657.7 346.1 656.3 346.9 654.9 347.8C653.6 348.7 652.3 349.6 651 350.5C647 353 642.9 355.6 638.8 357.5C635 359.3 631.1 361.5 627.2 362.1C623.9 362.6 620.7 363.1 617.5 363.1C615.3 363.1 613.1 362.6 610.9 362.1C608.4 361.6 606 360.8 603.5 359.7C600.2 358.3 596.9 355.1 593.6 353.2C589.3 350.8 585 348.6 580.8 346.7C578.1 345.5 575.5 344.1 572.8 343.5C570.1 343 567.4 342.5 564.8 342.4C561.2 342.1 557.6 342 554 341.9C549.5 341.6 545 341.5 540.5 341.1C536 340.8 531.5 340 527 339.4C522.7 338.9 518.5 338.2 514.2 337.7C510.8 337.3 507.4 336.8 504 336.7C500.6 336.5 497.2 336.3 493.7 336.3C486.9 336.3 480.1 336.3 473.3 336.3C466.5 336.3 459.7 336.5 452.9 336.5C449.1 336.5 445.4 336.4 441.6 336.4C437.9 336.4 434.2 336.4 430.4 336.4" stroke="#740000"/>
<path d="M421.6 342.5C422.4 341.5 423.2 340.6 424.1 339.7C425.1 338.6 426.2 337.1 427.3 336.4C429.6 335.1 431.9 334.5 434.2 334C439.1 332.9 444.1 332.2 449.1 331.8C457.1 331.1 465.1 330.7 473.1 330.5C483.4 330.1 493.7 329.9 504 329.7C520 329.3 536 329.1 552 328.7C565.6 328.4 579.1 328.2 592.7 327.7C597.7 327.5 602.8 327.2 607.9 326.9C611.7 326.6 615.5 326.2 619.3 325.7C622.1 325.3 625 324.7 627.8 323.9C630.7 323.2 633.5 322.1 636.4 320.8C639.2 319.5 642.1 317.5 644.9 315.4C647.8 313.4 650.6 310.7 653.5 308.2C657.4 304.9 661.3 302 665.3 298C669.1 294.1 672.9 288.3 676.8 283.8C680 280 683.2 275.5 686.4 272.9C688.5 271.2 690.5 269.5 692.6 268.8C694.4 268.3 696.2 267.7 698 267.7C699.8 267.7 701.6 268.3 703.4 269C704.9 269.5 706.4 270.9 707.9 272.1C711.5 275 715.1 280.2 718.7 282.5C722.8 285.2 726.9 287.7 731 288.5C734.8 289.3 738.5 290 742.3 290C748.3 290 754.3 289.4 760.4 287.7L760.4 287.7C760.5 289.4 760.6 291.7 760.8 292.3C761.4 295.5 762.1 296 762.7 297.2C763.5 298.6 764.3 299.8 765.1 300.5L765.1 300.5C761.8 305.3 758.5 309.7 755.2 312.7C751 316.5 746.8 319.2 742.5 321.7C738.3 324.1 734.1 325.8 729.9 327.7C725.7 329.7 721.4 332.3 717.2 333.5C712.4 334.8 707.6 335.5 702.8 336.4C696.7 337.6 690.7 338.4 684.6 339.9C682.5 340.3 680.3 341.1 678.2 341.7C676.1 342.2 674 342.7 671.9 343.4C670.3 343.9 668.7 344.6 667.1 345.4C665.6 346.1 664.2 346.9 662.7 348C661.5 349 660.3 350.5 659.1 351.6C657.7 353 656.4 354.2 655 355.6C653.7 356.9 652.4 358.4 651.1 359.7C647.1 363.6 643.1 367.5 639.1 370.5C635.2 373.3 631.4 376.7 627.5 377.6C624.3 378.3 621.1 379 617.9 379C615.7 379 613.5 378.2 611.3 377.6C608.8 376.8 606.2 375.4 603.7 373.8C600.4 371.7 597 367.7 593.7 365.1C589.4 361.7 585.1 358.7 580.8 356C578.1 354.3 575.5 352.3 572.8 351.4C570.1 350.5 567.5 349.8 564.8 349.5C561.2 349 557.6 348.9 554 348.6C549.5 348.2 545 347.9 540.5 347.2C536 346.6 531.5 345.3 527 344.3C522.7 343.3 518.5 342.2 514.2 341.3C510.8 340.6 507.4 339.7 504 339.4C500.6 339 497.2 338.7 493.7 338.7C486.9 338.7 480.1 338.7 473.3 338.7C466.5 338.7 459.7 339.1 452.9 339.1C449.1 339.1 445.4 338.9 441.6 338.9C438.3 338.9 434.9 338.9 431.6 338.9" stroke="#460000"/>
<path d="M421.6 345C422.4 343.9 423.3 342.8 424.1 341.7C425.2 340.2 426.3 338.2 427.4 337.5C429.8 335.8 432.2 335 434.5 334.4C439.6 333 444.7 332.2 449.7 331.7C457.5 331 465.3 330.6 473.1 330.2C483.4 329.8 493.7 329.6 504 329.3C520 328.9 536 328.6 552 328.2C565.6 327.9 579.1 327.7 592.7 327.1C597.8 326.9 603 326.6 608.2 326.1C612 325.8 615.8 325.3 619.6 324.7C622.4 324.2 625.3 323.5 628.1 322.6C631 321.7 633.8 320.4 636.7 318.7C639.5 317 642.4 314.3 645.2 311.6C648.1 308.8 650.9 305.1 653.8 301.9C657.8 297.5 661.7 294.1 665.7 289C669.6 284 673.5 276.4 677.4 270.6C680.7 265.6 683.9 259.8 687.2 256.4C689.3 254.1 691.5 251.8 693.6 251C695.4 250.3 697.2 249.7 699.1 249.7C700.9 249.7 702.8 250.4 704.6 251.3C706.1 251.9 707.5 253.7 709 255.1C712.6 258.6 716.2 264.6 719.8 267.2C723.8 270.2 727.9 272.9 731.9 273.7C735.5 274.3 739.1 274.9 742.7 274.9C748.2 274.9 753.7 274.4 759.2 273.1L759.2 273.1C759.3 276 759.5 279.7 759.7 280.7C760.5 285.9 761.3 286.7 762.1 288.7C763.1 291 764.1 293 765.1 294.1L765.1 294.1C761.8 299.9 758.5 305.1 755.2 308.7C751 313.3 746.8 316.5 742.5 319.4C738.3 322.3 734.1 324.3 729.9 326.7C725.7 329 721.4 332 717.2 333.5C712.4 335.2 707.6 336.1 702.8 337.4C696.7 338.9 690.7 340 684.6 341.8C682.5 342.5 680.3 343.4 678.2 344.2C676.1 344.9 674 345.5 671.9 346.4C670.3 347.1 668.7 348 667.1 349C665.7 349.9 664.2 351 662.7 352.5C661.5 353.7 660.3 355.6 659.1 357.2C657.8 358.9 656.4 360.5 655.1 362.3C653.8 364 652.5 366 651.2 367.6C647.2 372.8 643.2 377.9 639.2 381.7C635.4 385.4 631.6 389.8 627.8 391C624.6 392 621.4 392.8 618.2 392.8C616 392.8 613.8 391.8 611.6 391C609 390 606.5 388.1 603.9 386.1C600.6 383.4 597.2 378.7 593.8 375.5C589.5 371.4 585.1 367.7 580.8 364.3C578.1 362.2 575.5 359.7 572.8 358.5C570.1 357.3 567.5 356.4 564.8 355.9C561.2 355.3 557.6 355.2 554 354.7C549.5 354.2 545 353.7 540.5 352.8C536 352 531.5 350.4 527 349C522.7 347.7 518.5 346.1 514.2 344.9C510.8 344 507.4 342.8 504 342.3C500.6 341.9 497.2 341.4 493.7 341.4C486.9 341.4 480.1 341.4 473.3 341.4C466.5 341.4 459.7 342 452.9 342C449.1 342 445.4 341.7 441.6 341.7C438.7 341.7 435.8 341.7 432.9 341.7" stroke="#170000"/>
<path d="M421.6 347.1C422.5 345.7 423.3 344.4 424.2 343.1C425.3 341.5 426.4 339.1 427.6 338.2C430 336.3 432.4 335.3 434.8 334.5C440 333 445.1 332 450.2 331.4C457.8 330.6 465.5 330.1 473.1 329.7C483.4 329.2 493.7 328.9 504 328.6C520 328.1 536 327.8 552 327.3C565.6 326.9 579.1 326.7 592.7 326C597.9 325.8 603.2 325.4 608.4 324.8C612.2 324.4 616 323.9 619.8 323.2C622.7 322.6 625.5 321.8 628.4 320.7C631.2 319.6 634.1 318.1 636.9 316.1C639.8 314.1 642.6 310.9 645.5 307.7C648.3 304.5 651.2 300.1 654 296.4C658 291.2 662 287.1 666 281.1C670 275.2 673.9 266.4 677.9 259.5C681.2 253.7 684.5 246.7 687.9 242.7C690 240.1 692.2 237.4 694.4 236.4C696.2 235.6 698.1 234.8 699.9 234.8C701.8 234.8 703.6 235.8 705.5 236.7C707 237.5 708.4 239.6 709.9 241.2C713.5 245.3 717.1 252.4 720.7 255.5C724.6 259 728.6 262.2 732.5 263.2C736 264.1 739.5 264.9 743 264.9C748.1 264.9 753.2 264.7 758.3 263.3L758.3 263.3C758.4 266.8 758.6 271.3 758.8 272.5C759.8 278.8 760.7 279.8 761.7 282.2C762.8 285 763.9 287.5 765.1 288.8L765.1 288.8C761.8 295.4 758.5 301.3 755.2 305.3C751 310.5 746.8 314.2 742.5 317.5C738.3 320.8 734.1 323.1 729.9 325.8C725.7 328.4 721.4 331.8 717.2 333.6C712.4 335.6 707.6 336.7 702.8 338.1C696.7 340 690.7 341.3 684.6 343.5C682.5 344.3 680.3 345.4 678.2 346.3C676.1 347.2 674 347.9 671.9 349C670.3 349.8 668.7 350.9 667.1 352.1C665.7 353.2 664.2 354.5 662.7 356.3C661.5 357.7 660.3 360 659.1 361.9C657.8 363.9 656.4 365.9 655.1 368C653.8 370 652.5 372.4 651.3 374.4C647.3 380.5 643.4 386.7 639.4 391.2C635.6 395.6 631.8 400.9 628 402.3C624.8 403.5 621.6 404.5 618.4 404.5C616.2 404.5 614 403.3 611.8 402.3C609.3 401.1 606.7 398.7 604.1 396.4C600.7 393.4 597.3 388.7 593.9 385.2C589.5 380.8 585.2 376.7 580.8 372.9C578.2 370.6 575.5 367.6 572.8 366.2C570.1 364.8 567.5 363.6 564.8 363.1C561.2 362.3 557.6 362 554 361.4C549.5 360.7 545 360.1 540.5 359C536 357.9 531.5 355.8 527 354C522.7 352.4 518.5 350.3 514.2 348.7C510.8 347.5 507.4 345.9 504 345.3C500.6 344.7 497.2 344.1 493.7 344.1C486.9 344.1 480.1 344 473.3 344C466.5 344 459.7 344.8 452.9 344.8C449.1 344.8 445.4 344.5 441.6 344.5C439.1 344.5 436.6 344.5 434.2 344.5" stroke="#001700"/>
<path d="M421.6 349C422.5 347.5 423.3 346 424.2 344.5C425.4 342.6 426.5 339.9 427.7 338.9C430.2 336.7 432.6 335.6 435.1 334.7C440.3 332.9 445.4 331.8 450.6 331.2C458.1 330.2 465.6 329.6 473.2 329.2C483.4 328.6 493.7 328.3 504 328C520 327.4 536 327 552 326.5C565.6 326 579.1 325.7 592.7 325C598 324.7 603.3 324.3 608.6 323.6C612.4 323.2 616.2 322.6 620 321.7C622.9 321.1 625.7 320.2 628.6 318.9C631.4 317.7 634.3 315.9 637.1 313.7C640 311.4 642.8 307.8 645.7 304.1C648.5 300.5 651.4 295.4 654.2 291.2C658.3 285.3 662.3 280.6 666.3 273.8C670.3 267 674.3 257 678.3 249.1C681.7 242.5 685.1 234.6 688.4 230.1C690.6 227.1 692.8 224 695 222.9C696.9 222 698.8 221.1 700.6 221.1C702.5 221.1 704.4 222.1 706.3 223.2C707.8 224.1 709.2 226.5 710.7 228.4C714.3 233.1 717.9 241 721.4 244.6C725.3 248.6 729.2 252.2 733.1 253.5C736.5 254.7 739.9 255.7 743.3 255.7C748 255.7 752.7 255.7 757.4 254.4L757.4 254.4C757.6 258.4 757.8 263.5 758 264.9C759.1 272.1 760.2 273.3 761.2 276C762.5 279.2 763.8 282 765.1 283.5L765.1 283.5C761.8 290.8 758.5 297.5 755.2 302C751 307.8 746.8 312 742.5 315.6C738.3 319.3 734.1 321.9 729.9 324.9C725.7 327.9 721.4 331.6 717.2 333.6C712.4 335.9 707.6 337.2 702.8 338.9C696.7 341 690.7 342.5 684.6 345C682.5 345.9 680.3 347.2 678.2 348.3C676.1 349.3 674 350.1 671.9 351.4C670.3 352.3 668.7 353.5 667.1 354.9C665.7 356.2 664.2 357.7 662.8 359.7C661.6 361.3 660.4 364 659.2 366.1C657.8 368.5 656.5 370.7 655.1 373.2C653.9 375.5 652.6 378.2 651.3 380.5C647.4 387.6 643.5 394.6 639.5 399.9C635.8 404.9 632 411 628.3 412.6C625.1 414 621.9 415.2 618.7 415.2C616.5 415.2 614.3 413.8 612 412.6C609.5 411.2 606.9 408.4 604.3 405.8C600.9 402.4 597.4 397.2 594 393.3C589.6 388.4 585.2 383.9 580.9 379.5C578.2 376.8 575.5 373.5 572.8 371.9C570.2 370.2 567.5 368.9 564.8 368.2C561.2 367.3 557.6 367 554 366.3C549.5 365.5 545 364.7 540.5 363.5C536 362.2 531.5 359.9 527 358C522.7 356.1 518.5 353.7 514.2 351.9C510.8 350.4 507.4 348.7 504 348C500.6 347.2 497.2 346.5 493.7 346.5C486.9 346.4 480.1 346.4 473.3 346.4C466.5 346.4 459.7 347.4 452.9 347.4C449.1 347.4 445.4 347 441.6 347C439.5 347 437.4 347 435.3 347" stroke="#004600"/>
<path d="M421.6 351.2C422.5 349.5 423.4 347.8 424.3 346.1C425.4 343.9 426.6 340.9 427.8 339.7C430.3 337.2 432.9 335.9 435.4 334.9C440.6 332.9 445.9 331.6 451.1 330.9C458.5 329.8 465.8 329.1 473.2 328.6C483.5 328 493.7 327.6 504 327.2C520 326.6 536 326.1 552 325.5C565.6 325 579.1 324.6 592.7 323.8C598.1 323.5 603.5 323 608.9 322.3C612.7 321.8 616.5 321.1 620.3 320.1C623.1 319.4 626 318.3 628.8 316.9C631.7 315.5 634.5 313.5 637.4 310.9C640.2 308.3 643.1 304.2 645.9 300C648.8 295.8 651.6 290 654.5 285.3C658.5 278.5 662.6 273.2 666.7 265.4C670.7 257.6 674.8 246.2 678.8 237.2C682.3 229.7 685.7 220.6 689.1 215.4C691.3 212 693.6 208.5 695.8 207.3C697.7 206.2 699.6 205.2 701.5 205.2C703.4 205.2 705.3 206.4 707.2 207.6C708.7 208.6 710.1 211.4 711.6 213.5C715.1 218.9 718.7 227.9 722.3 232.1C726.1 236.6 730 240.7 733.8 242.4C737.1 243.8 740.4 245.3 743.6 245.3C747.9 245.3 752.2 245.3 756.5 244.4L756.5 244.4C756.7 249.3 757 255.6 757.2 257.3C758.4 266.3 759.6 267.7 760.8 271C762.2 275 763.6 278.5 765.1 280.4L765.1 280.4C761.8 288.1 758.5 295.2 755.2 300C751 306.2 746.8 310.6 742.5 314.5C738.3 318.4 734.1 321.1 729.9 324.3C725.7 327.5 721.4 331.3 717.2 333.6C712.4 336.3 707.6 337.9 702.8 339.9C696.7 342.4 690.7 344.2 684.6 347.2C682.5 348.2 680.3 349.7 678.2 351C676.1 352.2 674 353.2 671.9 354.6C670.3 355.8 668.7 357.1 667.2 358.8C665.7 360.3 664.2 362.1 662.8 364.5C661.6 366.4 660.4 369.6 659.2 372.1C657.9 374.9 656.5 377.5 655.2 380.4C653.9 383.2 652.7 386.4 651.4 389.1C647.5 397.4 643.6 405.8 639.7 412C636 417.9 632.3 425.1 628.6 427C625.4 428.6 622.2 430.1 619 430.1C616.8 430.1 614.6 428.4 612.4 427C609.7 425.4 607.1 422.2 604.5 419C601.1 414.9 597.6 408.4 594.1 403.6C589.7 397.6 585.3 392.1 580.9 386.8C578.2 383.6 575.5 379.6 572.9 377.7C570.2 375.7 567.5 374.2 564.8 373.4C561.2 372.3 557.6 372 554 371.2C549.5 370.3 545 369.4 540.5 368C536 366.6 531.5 364.2 527 362C522.7 360 518.5 357.3 514.2 355.3C510.8 353.7 507.4 351.7 504 350.9C500.6 350.1 497.2 349.2 493.7 349.2C486.9 349.1 480.1 349.1 473.3 349.1C466.5 349.1 459.7 350.3 452.9 350.3C449.1 350.3 445.4 349.8 441.6 349.8C439.9 349.8 438.3 349.8 436.6 349.8" stroke="#007400"/>
<path d="M421.6 354.3C422.5 352.3 423.4 350.3 424.3 348.3C425.6 345.7 426.8 342.2 428 340.8C430.6 337.9 433.2 336.3 435.8 335.2C441.1 332.8 446.4 331.4 451.7 330.4C458.9 329.2 466.1 328.3 473.2 327.8C483.5 327 493.7 326.6 504 326.2C520 325.4 536 324.9 552 324.1C565.6 323.5 579.1 323.1 592.7 322.2C598.2 321.8 603.7 321.2 609.2 320.4C613 319.8 616.8 319 620.6 317.8C623.4 317 626.3 315.7 629.1 314.1C632 312.4 634.8 310 637.7 307C640.5 304 643.4 299.1 646.3 294.2C649.1 289.3 652 282.5 654.8 276.9C658.9 268.9 663 262.7 667.1 253.6C671.2 244.5 675.4 231.1 679.5 220.6C683 211.7 686.4 201 689.9 195C692.2 191 694.5 186.8 696.8 185.4C698.8 184.2 700.7 183 702.6 183C704.5 183 706.5 184.3 708.4 185.8C709.9 186.9 711.3 190.2 712.7 192.7C716.3 199.1 719.9 209.4 723.5 214.5C727.2 219.9 731 224.6 734.7 226.9C737.8 228.7 741 230.8 744.1 230.8C747.8 230.8 751.5 230.8 755.2 230.8L755.2 230.8C755.5 236.8 755.8 244.6 756 246.7C757.4 257.7 758.8 259.4 760.2 263.6C761.8 268.5 763.4 272.8 765.1 275.1L765.1 275.1C761.8 283.6 758.5 291.4 755.2 296.7C751 303.5 746.8 308.3 742.5 312.6C738.3 316.9 734.1 319.9 729.9 323.4C725.7 326.9 721.4 331 717.2 333.7C712.4 336.7 707.6 338.7 702.8 341.1C696.7 344.1 690.7 346.2 684.6 349.8C682.5 351 680.3 352.8 678.2 354.3C676.1 355.7 674 356.9 671.9 358.6C670.3 360 668.8 361.6 667.2 363.6C665.7 365.4 664.3 367.5 662.8 370.3C661.6 372.6 660.4 376.4 659.3 379.4C657.9 382.7 656.6 385.8 655.3 389.2C654 392.5 652.8 396.3 651.5 399.5C647.7 409.4 643.8 419.3 640 426.7C636.3 433.7 632.6 442.3 628.9 444.5C625.8 446.4 622.6 448.1 619.5 448.1C617.2 448.1 615 446.2 612.7 444.5C610.1 442.6 607.5 438.8 604.8 435.1C601.3 430.1 597.8 422.3 594.2 416.6C589.8 409.4 585.4 402.7 580.9 396.4C578.2 392.6 575.5 387.9 572.9 385.6C570.2 383.3 567.5 381.5 564.8 380.5C561.2 379.3 557.6 378.9 554 378C549.5 376.8 545 375.8 540.5 374.2C536 372.6 531.5 370.4 527 368.1C522.7 366 518.5 363 514.2 360.7C510.8 358.9 507.4 356.7 504 355.7C500.6 354.8 497.2 353.7 493.7 353.7C486.9 353.6 480.1 353.6 473.3 353.6C466.5 353.6 459.7 355.1 452.9 355.1C449.1 355.1 445.4 354.5 441.6 354.5C440.7 354.5 439.7 354.5 438.7 354.5" stroke="#00a200"/>
<path d="M421.6 357.3C422.5 355 423.5 352.7 424.4 350.5C425.6 347.5 426.9 343.5 428.2 341.9C430.8 338.5 433.5 336.8 436.2 335.5C441.5 332.8 446.9 331.1 452.3 330C459.3 328.6 466.3 327.6 473.3 327C483.5 326.1 493.8 325.7 504 325.2C520 324.3 536 323.7 552 322.8C565.6 322.1 579.1 321.7 592.7 320.6C598.3 320.2 603.9 319.5 609.5 318.6C613.3 317.9 617.1 316.9 620.9 315.6C623.7 314.7 626.6 313.2 629.4 311.3C632.3 309.5 635.1 306.7 638 303.3C640.8 299.8 643.7 294.3 646.5 288.7C649.4 283.1 652.2 275.3 655.1 269C659.2 259.8 663.4 252.7 667.5 242.4C671.7 231.9 675.9 216.7 680.1 204.7C683.7 194.6 687.2 182.4 690.7 175.5C693.1 170.9 695.4 166.2 697.8 164.5C699.7 163.2 701.7 161.8 703.6 161.8C705.6 161.8 707.6 163.3 709.6 165.1C711 166.3 712.4 170.1 713.8 172.9C717.4 180.2 721 191.8 724.6 197.8C728.2 203.9 731.9 209.3 735.5 212.1C738.5 214.5 741.5 216.7 744.5 217.2C747.7 217.8 750.9 218.2 754.1 218.2L754.1 218.2C754.4 225.5 754.7 235 755 237.5C756.5 250.9 758 252.9 759.6 257.9C761.4 263.9 763.2 269.1 765.1 271.9L765.1 271.9C761.8 280.9 758.5 289.1 755.2 294.7C751 301.9 746.8 307 742.5 311.5C738.3 316 734.1 319.2 729.9 322.9C725.7 326.6 721.4 330.8 717.2 333.8C712.4 337.2 707.6 339.6 702.8 342.3C696.7 345.8 690.7 348.2 684.6 352.3C682.5 353.8 680.3 355.8 678.2 357.6C676.1 359.3 674 360.6 671.9 362.6C670.4 364.2 668.8 366 667.2 368.3C665.7 370.4 664.3 372.9 662.8 376.1C661.7 378.8 660.5 383.2 659.3 386.6C658 390.5 656.7 394 655.3 398C654.1 401.8 652.9 406.2 651.6 409.9C647.8 421.3 644 432.8 640.2 441.4C636.6 449.5 632.9 459.4 629.3 462C626.2 464.2 623 466.2 619.9 466.2C617.6 466.2 615.4 463.9 613.1 462C610.4 459.8 607.8 455.3 605.1 451.1C601.5 445.4 598 436.7 594.4 430.2C589.9 422 585.4 414.5 581 407.3C578.3 402.9 575.6 397.5 572.9 394.8C570.2 392.2 567.5 390 564.8 388.9C561.2 387.4 557.6 387 554 385.9C549.5 384.6 545 383.3 540.5 381.5C536 379.7 531.5 377.4 527 374.8C522.7 372.4 518.5 369 514.2 366.4C510.8 364.3 507.4 361.7 504 360.6C500.6 359.5 497.2 358.2 493.7 358.2C486.9 358.1 480.1 358.1 473.3 358.1C466.5 358.1 459.7 359.9 452.9 359.9C448.9 359.9 444.9 359.6 440.9 359.1" stroke="#00d100"/>
<path d="M421.6 360.4C422.6 357.8 423.5 355.2 424.5 352.7C425.7 349.3 427 344.8 428.3 343C431.1 339.2 433.8 337.2 436.5 335.7C442 332.7 447.5 330.9 452.9 329.6C459.7 328 466.5 326.9 473.3 326.2C483.5 325.2 493.8 324.7 504 324.1C520 323.1 536 322.4 552 321.5C565.6 320.7 579.1 320.2 592.7 319C598.4 318.5 604.1 317.7 609.8 316.6C613.6 315.9 617.4 314.8 621.2 313.3C624 312.2 626.9 310.6 629.7 308.5C632.6 306.4 635.4 303.3 638.3 299.4C641.1 295.5 644 289.2 646.8 282.9C649.7 276.6 652.6 267.8 655.4 260.6C659.6 250.2 663.8 242.2 667.9 230.6C672.2 218.7 676.5 201.6 680.8 188C684.4 176.6 687.9 162.8 691.5 155.1C693.9 149.9 696.3 144.6 698.7 142.7C700.7 141.1 702.7 139.6 704.7 139.6C706.7 139.6 708.7 141.3 710.7 143.2C712.1 144.6 713.5 148.9 714.9 152.2C718.5 160.4 722.1 173.3 725.7 180.2C729.2 187.2 732.8 193.2 736.4 196.7C739.2 199.5 742.1 201.9 744.9 203.1C747.6 204.2 750.3 205.2 752.9 205.4L752.9 205.4C753.2 214 753.6 225.2 753.9 228.2C755.6 243.9 757.3 246.4 759 252.3C761 259.3 763 265.4 765.1 268.7L765.1 268.7C761.8 278.2 758.5 286.8 755.2 292.7C751 300.3 746.8 305.6 742.5 310.4C738.3 315.1 734.1 318.5 729.9 322.4C725.7 326.3 721.4 330.6 717.2 333.8C712.4 337.5 707.6 340.3 702.8 343.4C696.7 347.2 690.7 349.9 684.6 354.5C682.5 356.1 680.3 358.4 678.2 360.3C676.1 362.2 674 363.6 671.9 365.9C670.4 367.6 668.8 369.7 667.2 372.3C665.8 374.6 664.3 377.3 662.9 380.9C661.7 383.9 660.5 388.7 659.3 392.6C658 396.9 656.7 400.8 655.4 405.3C654.2 409.5 652.9 414.4 651.7 418.5C647.9 431.2 644.2 444 640.4 453.5C636.8 462.5 633.2 473.6 629.6 476.4C626.5 478.9 623.4 481.1 620.2 481.1C618 481.1 615.7 478.5 613.4 476.4C610.7 473.9 608 468.9 605.3 464.3C601.7 458.1 598.1 449.4 594.5 442.6C590 434 585.5 426 581 418.2C578.3 413.5 575.6 407.6 572.9 404.7C570.2 401.7 567.5 399.3 564.8 398C561.2 396.3 557.6 395.7 554 394.5C549.5 392.9 545 391.4 540.5 389.4C536 387.4 531.5 385 527 382.2C522.7 379.6 518.5 375.6 514.2 372.7C510.8 370.3 507.4 367.4 504 366.1C500.6 364.8 497.2 363.3 493.7 363.3C486.9 363.2 480.1 363.2 473.3 363.2C466.5 363.2 459.7 365.4 452.9 365.4C449.7 365.4 446.5 365 443.3 364.4" stroke="#00ff00"/>
</g>
<rect x="415.6" y="280.8" width="262.9" height="211.5" fill="none" stroke="#000" stroke-width="2.6"/>
<text transform="translate(408.5 283.6) scale(1.03 1)" font-size="10.7" text-anchor="end" font-weight="bold">0.005</text>
<text transform="translate(408.5 336.5) scale(1.03 1)" font-size="10.7" text-anchor="end" font-weight="bold">0.000</text>
<text transform="translate(408.5 389.5) scale(1.03 1)" font-size="10.7" text-anchor="end" font-weight="bold">-0.005</text>
<text transform="translate(408.5 442.4) scale(1.03 1)" font-size="10.7" text-anchor="end" font-weight="bold">-0.010</text>
<text transform="translate(408.5 495.3) scale(1.03 1)" font-size="10.7" text-anchor="end" font-weight="bold">-0.015</text>
<path d="M414.6 280.4h-3.5M414.6 333.3h-3.5M414.6 386.2h-3.5M414.6 439.2h-3.5M414.6 492.1h-3.5M414.6 306.8h-1.6M414.6 359.8h-1.6M414.6 412.7h-1.6M414.6 465.6h-1.6" stroke="#000" stroke-width="2.0" fill="none"/>
<text transform="translate(421.6 507.7) scale(1.045 1)" font-size="10.7" text-anchor="middle" font-weight="bold">0.0</text>
<text transform="translate(478.6 507.7) scale(1.045 1)" font-size="10.7" text-anchor="middle" font-weight="bold">0.1</text>
<text transform="translate(535.7 507.7) scale(1.045 1)" font-size="10.7" text-anchor="middle" font-weight="bold">0.2</text>
<text transform="translate(592.7 507.7) scale(1.045 1)" font-size="10.7" text-anchor="middle" font-weight="bold">0.3</text>
<text transform="translate(649.7 507.7) scale(1.045 1)" font-size="10.7" text-anchor="middle" font-weight="bold">0.4</text>
<path d="M421.6 493.3v2.6M478.6 493.3v2.6M535.7 493.3v2.6M592.7 493.3v2.6M649.7 493.3v2.6M450.1 493.3v1.2M507.1 493.3v1.2M564.2 493.3v1.2M621.2 493.3v1.2M678.2 493.3v1.2" stroke="#000" stroke-width="2.0" fill="none"/>
<text transform="translate(372.5 390.5) rotate(-90) scale(1 1.05)" font-size="17.75" font-weight="bold" text-anchor="middle" stroke="#000" stroke-width="0.4">J / mA cm<tspan dy="-4.6">-2</tspan></text>
<text x="447.1" y="531.1" font-size="18.7" text-anchor="start" font-weight="bold" stroke="#000" stroke-width="0.3">E</text>
<text x="464.1" y="533.6" font-size="15" font-weight="bold" stroke="#000" stroke-width="0.3">(<tspan font-style="italic">vs.</tspan> SCE, 1 M KOH)</text>
<text x="606" y="531.1" font-size="18.7" text-anchor="start" font-weight="bold" stroke="#000" stroke-width="0.3">/ V</text>
<rect x="420.2" y="372.3" width="54.2" height="115.3" fill="#fff" stroke="#555" stroke-width="0.9"/>
<path d="M422.4 377.8H437.9" stroke="#ff0000" stroke-width="3.8" stroke-linecap="round"/>
<text x="440.8" y="380.4" font-size="7.2" text-anchor="start" font-weight="bold">2mV/s</text>
<path d="M422.4 387.3H437.9" stroke="#d10000" stroke-width="3.8" stroke-linecap="round"/>
<text x="440.8" y="389.9" font-size="7.2" text-anchor="start" font-weight="bold">5 mV/s</text>
<path d="M422.4 396.8H437.9" stroke="#a20000" stroke-width="3.8" stroke-linecap="round"/>
<text x="440.8" y="399.4" font-size="7.2" text-anchor="start" font-weight="bold">10 mV/s</text>
<path d="M422.4 406.3H437.9" stroke="#740000" stroke-width="3.8" stroke-linecap="round"/>
<text x="440.8" y="408.9" font-size="7.2" text-anchor="start" font-weight="bold">25 mV/s</text>
<path d="M422.4 415.8H437.9" stroke="#460000" stroke-width="3.8" stroke-linecap="round"/>
<text x="440.8" y="418.4" font-size="7.2" text-anchor="start" font-weight="bold">50 mV/s</text>
<path d="M422.4 425.2H437.9" stroke="#170000" stroke-width="3.8" stroke-linecap="round"/>
<text x="440.8" y="427.8" font-size="7.2" text-anchor="start" font-weight="bold">75 mV/s</text>
<path d="M422.4 434.7H437.9" stroke="#001700" stroke-width="3.8" stroke-linecap="round"/>
<text x="440.8" y="437.3" font-size="7.2" text-anchor="start" font-weight="bold">100 mV/s</text>
<path d="M422.4 444.2H437.9" stroke="#004600" stroke-width="3.8" stroke-linecap="round"/>
<text x="440.8" y="446.8" font-size="7.2" text-anchor="start" font-weight="bold">125 mV/s</text>
<path d="M422.4 453.7H437.9" stroke="#007400" stroke-width="3.8" stroke-linecap="round"/>
<text x="440.8" y="456.3" font-size="7.2" text-anchor="start" font-weight="bold">150 mV/s</text>
<path d="M422.4 463.2H437.9" stroke="#00a200" stroke-width="3.8" stroke-linecap="round"/>
<text x="440.8" y="465.8" font-size="7.2" text-anchor="start" font-weight="bold">200 mV/s</text>
<path d="M422.4 472.7H437.9" stroke="#00d100" stroke-width="3.8" stroke-linecap="round"/>
<text x="440.8" y="475.3" font-size="7.2" text-anchor="start" font-weight="bold">250 mV/s</text>
<path d="M422.4 482.2H437.9" stroke="#00ff00" stroke-width="3.8" stroke-linecap="round"/>
<text x="440.8" y="484.8" font-size="7.2" text-anchor="start" font-weight="bold">300 mV/s</text>
<rect x="418.7" y="283.7" width="136.5" height="25.5" fill="#fff" stroke="#555" stroke-width="1"/>
<text transform="translate(420.5 300.7) scale(1.07 1)" font-size="16.85" font-weight="bold">BaS:NiS:Gd<tspan dy="3.2" font-size="16">2</tspan><tspan dy="-3.2" font-size="16.85">S</tspan><tspan dy="3.2" font-size="16">3</tspan></text>
<text x="644.2" y="481" font-size="19.3" text-anchor="start" font-weight="bold">(d)</text>
<path d="M85.2 590.5L85.8 594.9M87.6 607.4L89.2 617M92.8 629L98.8 642.9M106.3 652.6L114.9 659.4M124.8 667.2L133.3 673.9M143 681.9L152 690M160.9 698.9L171 710.2M179.7 719.4L189.2 728.9M199.6 735.5L224.7 744.8M236.8 747.6L261.2 750.1M273.8 751.1L298.1 752.5" stroke="#000" stroke-width="2.6" fill="none"/>
<path d="M78.4 584.3l6 -6l6 6l-6 6z" fill="#fff" stroke="#008c00" stroke-width="0.75"/>
<path d="M84.4 578.3l6 6l-6 6z" fill="#008c00"/>
<path d="M80.6 601.1l6 -6l6 6l-6 6z" fill="#fff" stroke="#008c00" stroke-width="0.75"/>
<path d="M86.6 595.1l6 6l-6 6z" fill="#008c00"/>
<path d="M84.3 623.2l6 -6l6 6l-6 6z" fill="#fff" stroke="#008c00" stroke-width="0.75"/>
<path d="M90.3 617.2l6 6l-6 6z" fill="#008c00"/>
<path d="M95.4 648.6l6 -6l6 6l-6 6z" fill="#fff" stroke="#008c00" stroke-width="0.75"/>
<path d="M101.4 642.6l6 6l-6 6z" fill="#008c00"/>
<path d="M113.8 663.3l6 -6l6 6l-6 6z" fill="#fff" stroke="#008c00" stroke-width="0.75"/>
<path d="M119.8 657.3l6 6l-6 6z" fill="#008c00"/>
<path d="M132.3 677.8l6 -6l6 6l-6 6z" fill="#fff" stroke="#008c00" stroke-width="0.75"/>
<path d="M138.3 671.8l6 6l-6 6z" fill="#008c00"/>
<path d="M150.7 694.2l6 -6l6 6l-6 6z" fill="#fff" stroke="#008c00" stroke-width="0.75"/>
<path d="M156.7 688.2l6 6l-6 6z" fill="#008c00"/>
<path d="M169.2 715l6 -6l6 6l-6 6z" fill="#fff" stroke="#008c00" stroke-width="0.75"/>
<path d="M175.2 709l6 6l-6 6z" fill="#008c00"/>
<path d="M187.7 733.3l6 -6l6 6l-6 6z" fill="#fff" stroke="#008c00" stroke-width="0.75"/>
<path d="M193.7 727.3l6 6l-6 6z" fill="#008c00"/>
<path d="M224.6 747l6 -6l6 6l-6 6z" fill="#fff" stroke="#008c00" stroke-width="0.75"/>
<path d="M230.6 741l6 6l-6 6z" fill="#008c00"/>
<path d="M261.5 750.7l6 -6l6 6l-6 6z" fill="#fff" stroke="#008c00" stroke-width="0.75"/>
<path d="M267.5 744.7l6 6l-6 6z" fill="#008c00"/>
<path d="M298.4 752.9l6 -6l6 6l-6 6z" fill="#fff" stroke="#008c00" stroke-width="0.75"/>
<path d="M304.4 746.9l6 6l-6 6z" fill="#008c00"/>
<rect x="64.2" y="558.3" width="259.1" height="208.7" fill="none" stroke="#000" stroke-width="2.6"/>
<text transform="translate(57 769.7) scale(1.03 1)" font-size="10.4" text-anchor="end" font-weight="bold">0</text>
<text transform="translate(57 745.2) scale(1.03 1)" font-size="10.4" text-anchor="end" font-weight="bold">100</text>
<text transform="translate(57 720.8) scale(1.03 1)" font-size="10.4" text-anchor="end" font-weight="bold">200</text>
<text transform="translate(57 696.3) scale(1.03 1)" font-size="10.4" text-anchor="end" font-weight="bold">300</text>
<text transform="translate(57 671.8) scale(1.03 1)" font-size="10.4" text-anchor="end" font-weight="bold">400</text>
<text transform="translate(57 647.3) scale(1.03 1)" font-size="10.4" text-anchor="end" font-weight="bold">500</text>
<text transform="translate(57 622.9) scale(1.03 1)" font-size="10.4" text-anchor="end" font-weight="bold">600</text>
<text transform="translate(57 598.4) scale(1.03 1)" font-size="10.4" text-anchor="end" font-weight="bold">700</text>
<text transform="translate(57 573.9) scale(1.03 1)" font-size="10.4" text-anchor="end" font-weight="bold">800</text>
<path d="M63.2 766.6h-3.5M63.2 742.1h-3.5M63.2 717.6h-3.5M63.2 693.2h-3.5M63.2 668.7h-3.5M63.2 644.2h-3.5M63.2 619.8h-3.5M63.2 595.3h-3.5M63.2 570.8h-3.5M63.2 754.4h-1.6M63.2 729.9h-1.6M63.2 705.4h-1.6M63.2 680.9h-1.6M63.2 656.5h-1.6M63.2 632h-1.6M63.2 607.5h-1.6M63.2 583h-1.6" stroke="#000" stroke-width="2.0" fill="none"/>
<text transform="translate(82.9 781.6) scale(1.045 1)" font-size="10.4" text-anchor="middle" font-weight="bold">0</text>
<text transform="translate(119.8 781.6) scale(1.045 1)" font-size="10.4" text-anchor="middle" font-weight="bold">50</text>
<text transform="translate(156.7 781.6) scale(1.045 1)" font-size="10.4" text-anchor="middle" font-weight="bold">100</text>
<text transform="translate(193.7 781.6) scale(1.045 1)" font-size="10.4" text-anchor="middle" font-weight="bold">150</text>
<text transform="translate(230.6 781.6) scale(1.045 1)" font-size="10.4" text-anchor="middle" font-weight="bold">200</text>
<text transform="translate(267.5 781.6) scale(1.045 1)" font-size="10.4" text-anchor="middle" font-weight="bold">250</text>
<text transform="translate(304.4 781.6) scale(1.045 1)" font-size="10.4" text-anchor="middle" font-weight="bold">300</text>
<path d="M82.9 768v2.6M119.8 768v2.6M156.7 768v2.6M193.7 768v2.6M230.6 768v2.6M267.5 768v2.6M304.4 768v2.6M64.4 768v1.2M101.4 768v1.2M138.3 768v1.2M175.2 768v1.2M212.1 768v1.2M249 768v1.2M285.9 768v1.2" stroke="#000" stroke-width="2.0" fill="none"/>
<text x="72.3" y="756.7" font-size="19.3" text-anchor="start" font-weight="bold">(e)</text>
<rect x="185.4" y="562.4" width="134.8" height="24.9" fill="#fff" stroke="#555" stroke-width="1"/>
<text transform="translate(187.1 579.4) scale(1.07 1)" font-size="16.6" font-weight="bold">BaS:NiS:Gd<tspan dy="3.2" font-size="15.8">2</tspan><tspan dy="-3.2" font-size="16.6">S</tspan><tspan dy="3.2" font-size="15.8">3</tspan></text>
<text transform="translate(23.2 657.4) rotate(-90) scale(1 1.04)" font-size="17" font-weight="bold" text-anchor="middle" stroke="#000" stroke-width="0.45">C<tspan dy="3.4">sp</tspan><tspan dy="-3.4"> / F g</tspan><tspan dy="-7.5">-1</tspan></text>
<text transform="translate(110.3 807.6) scale(1.07 1)" font-size="16.6" font-weight="bold" stroke="#000" stroke-width="0.4">Scan rate / mV s<tspan dy="-11.6" dx="1.2" font-size="16">-1</tspan></text>
<path d="M441.5 591.7L441.6 596.2M442 608.8L442.4 618.5M443.8 631L446.2 644.8M452.6 654.3L465.2 662.1M474.6 670.2L478.7 675.1M483.8 686.2L484.4 690.3M489.5 701.4L499 712.8M508.7 720.5L534.4 734.2M545.8 739.4L568.5 748M580.7 750.6L626.9 753.6M639.4 754.9L640.7 755" stroke="#000" stroke-width="2.6" fill="none"/>
<path d="M435.4 585.4l6 -6l6 6l-6 6z" fill="#fff" stroke="#008c00" stroke-width="0.75"/>
<path d="M441.4 579.4l6 6l-6 6z" fill="#008c00"/>
<path d="M435.7 602.5l6 -6l6 6l-6 6z" fill="#fff" stroke="#008c00" stroke-width="0.75"/>
<path d="M441.7 596.5l6 6l-6 6z" fill="#008c00"/>
<path d="M436.7 624.8l6 -6l6 6l-6 6z" fill="#fff" stroke="#008c00" stroke-width="0.75"/>
<path d="M442.7 618.8l6 6l-6 6z" fill="#008c00"/>
<path d="M441.2 651l6 -6l6 6l-6 6z" fill="#fff" stroke="#008c00" stroke-width="0.75"/>
<path d="M447.2 645l6 6l-6 6z" fill="#008c00"/>
<path d="M464.5 665.4l6 -6l6 6l-6 6z" fill="#fff" stroke="#008c00" stroke-width="0.75"/>
<path d="M470.5 659.4l6 6l-6 6z" fill="#008c00"/>
<path d="M476.8 680l6 -6l6 6l-6 6z" fill="#fff" stroke="#008c00" stroke-width="0.75"/>
<path d="M482.8 674l6 6l-6 6z" fill="#008c00"/>
<path d="M479.4 696.5l6 -6l6 6l-6 6z" fill="#fff" stroke="#008c00" stroke-width="0.75"/>
<path d="M485.4 690.5l6 6l-6 6z" fill="#008c00"/>
<path d="M497.1 717.6l6 -6l6 6l-6 6z" fill="#fff" stroke="#008c00" stroke-width="0.75"/>
<path d="M503.1 711.6l6 6l-6 6z" fill="#008c00"/>
<path d="M533.9 737.1l6 -6l6 6l-6 6z" fill="#fff" stroke="#008c00" stroke-width="0.75"/>
<path d="M539.9 731.1l6 6l-6 6z" fill="#008c00"/>
<path d="M568.4 750.2l6 -6l6 6l-6 6z" fill="#fff" stroke="#008c00" stroke-width="0.75"/>
<path d="M574.4 744.2l6 6l-6 6z" fill="#008c00"/>
<path d="M627.2 754l6 -6l6 6l-6 6z" fill="#fff" stroke="#008c00" stroke-width="0.75"/>
<path d="M633.2 748l6 6l-6 6z" fill="#008c00"/>
<path d="M640.9 755.9l6 -6l6 6l-6 6z" fill="#fff" stroke="#008c00" stroke-width="0.75"/>
<path d="M646.9 749.9l6 6l-6 6z" fill="#008c00"/>
<rect x="415" y="559.8" width="261.8" height="210.6" fill="none" stroke="#000" stroke-width="2.6"/>
<text transform="translate(408.6 772.9) scale(1.03 1)" font-size="10.4" text-anchor="end" font-weight="bold">0</text>
<text transform="translate(408.6 748.2) scale(1.03 1)" font-size="10.4" text-anchor="end" font-weight="bold">100</text>
<text transform="translate(408.6 723.4) scale(1.03 1)" font-size="10.4" text-anchor="end" font-weight="bold">200</text>
<text transform="translate(408.6 698.7) scale(1.03 1)" font-size="10.4" text-anchor="end" font-weight="bold">300</text>
<text transform="translate(408.6 673.9) scale(1.03 1)" font-size="10.4" text-anchor="end" font-weight="bold">400</text>
<text transform="translate(408.6 649.2) scale(1.03 1)" font-size="10.4" text-anchor="end" font-weight="bold">500</text>
<text transform="translate(408.6 624.4) scale(1.03 1)" font-size="10.4" text-anchor="end" font-weight="bold">600</text>
<text transform="translate(408.6 599.7) scale(1.03 1)" font-size="10.4" text-anchor="end" font-weight="bold">700</text>
<text transform="translate(408.6 574.9) scale(1.03 1)" font-size="10.4" text-anchor="end" font-weight="bold">800</text>
<path d="M414 769.8h-3.5M414 745h-3.5M414 720.3h-3.5M414 695.5h-3.5M414 670.8h-3.5M414 646h-3.5M414 621.3h-3.5M414 596.5h-3.5M414 571.8h-3.5M414 757.4h-1.6M414 732.7h-1.6M414 707.9h-1.6M414 683.2h-1.6M414 658.4h-1.6M414 633.7h-1.6M414 608.9h-1.6M414 584.2h-1.6" stroke="#000" stroke-width="2.0" fill="none"/>
<text transform="translate(441.7 785.8) scale(1.045 1)" font-size="10.4" text-anchor="middle" font-weight="bold">0</text>
<text transform="translate(493.7 785.8) scale(1.045 1)" font-size="10.4" text-anchor="middle" font-weight="bold">5</text>
<text transform="translate(545.8 785.8) scale(1.045 1)" font-size="10.4" text-anchor="middle" font-weight="bold">10</text>
<text transform="translate(597.8 785.8) scale(1.045 1)" font-size="10.4" text-anchor="middle" font-weight="bold">15</text>
<text transform="translate(649.8 785.8) scale(1.045 1)" font-size="10.4" text-anchor="middle" font-weight="bold">20</text>
<path d="M441.7 771.4v2.6M493.7 771.4v2.6M545.8 771.4v2.6M597.8 771.4v2.6M649.8 771.4v2.6M415.7 771.4v1.2M467.7 771.4v1.2M519.7 771.4v1.2M571.8 771.4v1.2M623.8 771.4v1.2M675.8 771.4v1.2" stroke="#000" stroke-width="2.0" fill="none"/>
<text x="424.4" y="760.4" font-size="19.3" text-anchor="start" font-weight="bold">(f)</text>
<rect x="535.6" y="562.4" width="136.3" height="26.1" fill="#fff" stroke="#555" stroke-width="1"/>
<text transform="translate(537.5 579.9) scale(1.07 1)" font-size="16.8" font-weight="bold">BaS:NiS:Gd<tspan dy="3.2" font-size="16">2</tspan><tspan dy="-3.2" font-size="16.8">S</tspan><tspan dy="3.2" font-size="16">3</tspan></text>
<text transform="translate(374.1 660.0) rotate(-90) scale(1 1.04)" font-size="17" font-weight="bold" text-anchor="middle" stroke="#000" stroke-width="0.45">C<tspan dy="3.4">sp</tspan><tspan dy="-3.4"> / F g</tspan><tspan dy="-7.5">-1</tspan></text>
<text transform="translate(445.5 809.3) scale(1.075 1)" font-size="16.75" font-weight="bold" stroke="#000" stroke-width="0.4">Current density / A g<tspan dy="-6.5" dx="1.2" font-size="16">-1</tspan></text>
</svg></body></html>
